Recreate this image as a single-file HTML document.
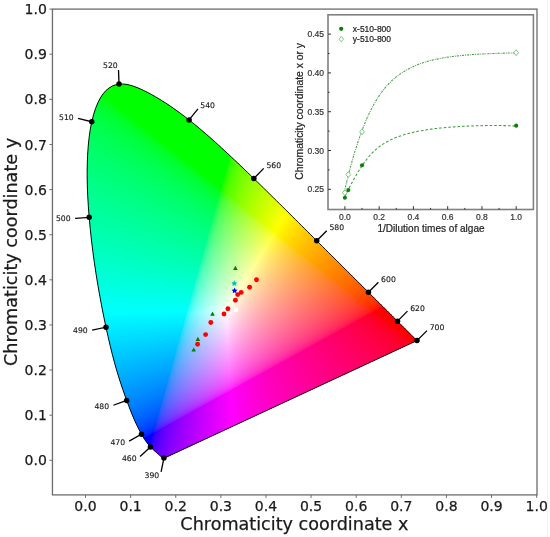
<!DOCTYPE html>
<html><head><meta charset="utf-8">
<style>
html,body{margin:0;padding:0;background:#fff;}
body{width:550px;height:537px;position:relative;overflow:hidden;}
#cv{position:absolute;left:0;top:0;}
svg{position:absolute;left:0;top:0;}
body>*{filter:blur(0.35px);}
.tk{font-family:"DejaVu Sans","Liberation Sans",sans-serif;font-size:14.0px;fill:#1a1a1a;stroke:#1a1a1a;stroke-width:0.25px;}
.al{font-family:"DejaVu Sans","Liberation Sans",sans-serif;font-size:17.6px;fill:#1a1a1a;stroke:#1a1a1a;stroke-width:0.25px;}
.wl{font-family:"DejaVu Sans","Liberation Sans",sans-serif;font-size:7.7px;fill:#1a1a1a;stroke:#1a1a1a;stroke-width:0.15px;}
.it{font-family:"Liberation Sans",Arial,sans-serif;font-size:8.5px;fill:#333;stroke:#333;stroke-width:0.2px;}
.il{font-family:"Liberation Sans",Arial,sans-serif;font-size:10.05px;fill:#222;stroke:#222;stroke-width:0.2px;}
.il2{font-family:"Liberation Sans",Arial,sans-serif;font-size:10.35px;fill:#222;stroke:#222;stroke-width:0.2px;}
.lg{font-family:"Liberation Sans",Arial,sans-serif;font-size:8.5px;fill:#222;stroke:#222;stroke-width:0.2px;}
</style></head><body>
<svg width="550" height="537" viewBox="0 0 550 537"><clipPath id="lc"><path d="M164.71,457.91 L164.68,457.91 L164.64,457.92 L164.60,457.92 L164.57,457.93 L164.53,457.93 L164.50,457.93 L164.47,457.94 L164.44,457.94 L164.41,457.94 L164.38,457.94 L164.36,457.94 L164.33,457.94 L164.31,457.94 L164.28,457.95 L164.24,457.96 L164.19,457.99 L164.15,458.01 L164.11,458.04 L164.08,458.05 L164.06,458.06 L164.05,458.06 L164.04,458.06 L164.03,458.05 L164.03,458.05 L164.01,458.05 L164.00,458.06 L163.98,458.07 L163.96,458.08 L163.94,458.08 L163.92,458.08 L163.90,458.08 L163.88,458.07 L163.85,458.07 L163.83,458.07 L163.81,458.08 L163.79,458.09 L163.77,458.11 L163.75,458.12 L163.73,458.13 L163.71,458.14 L163.69,458.14 L163.66,458.14 L163.64,458.15 L163.60,458.15 L163.57,458.15 L163.53,458.14 L163.49,458.14 L163.45,458.13 L163.41,458.13 L163.37,458.13 L163.33,458.14 L163.28,458.14 L163.24,458.13 L163.19,458.13 L163.15,458.12 L163.10,458.11 L163.05,458.09 L162.99,458.07 L162.92,458.04 L162.84,458.00 L162.75,457.95 L162.65,457.89 L162.55,457.83 L162.45,457.76 L162.34,457.69 L162.23,457.60 L162.11,457.51 L161.98,457.41 L161.84,457.30 L161.70,457.19 L161.54,457.06 L161.37,456.92 L161.19,456.77 L161.00,456.61 L160.80,456.44 L160.60,456.26 L160.39,456.06 L160.17,455.85 L159.93,455.63 L159.68,455.40 L159.42,455.16 L159.14,454.91 L158.84,454.65 L158.53,454.37 L158.19,454.08 L157.83,453.76 L157.45,453.43 L157.05,453.07 L156.62,452.70 L156.18,452.31 L155.71,451.90 L155.22,451.48 L154.71,451.03 L154.18,450.55 L153.62,450.04 L153.04,449.49 L152.43,448.91 L151.79,448.28 L151.14,447.61 L150.45,446.90 L149.75,446.14 L149.03,445.31 L148.27,444.42 L147.48,443.42 L146.64,442.31 L145.74,441.04 L144.77,439.60 L143.74,437.99 L142.65,436.19 L141.50,434.22 L140.31,432.06 L139.06,429.69 L137.75,427.10 L136.38,424.25 L134.95,421.12 L133.44,417.67 L131.87,413.89 L130.23,409.76 L128.50,405.28 L126.69,400.42 L124.79,395.18 L122.81,389.52 L120.75,383.41 L118.63,376.81 L116.50,369.73 L114.37,362.18 L112.26,354.15 L110.17,345.65 L108.07,336.67 L105.98,327.21 L103.89,317.28 L101.83,306.94 L99.83,296.24 L97.91,285.27 L96.09,274.09 L94.39,262.78 L92.84,251.41 L91.45,240.02 L90.23,228.65 L89.19,217.36 L88.34,206.24 L87.70,195.39 L87.30,184.87 L87.14,174.69 L87.24,164.84 L87.60,155.33 L88.21,146.21 L89.10,137.54 L90.28,129.38 L91.76,121.82 L93.52,114.86 L95.54,108.53 L97.81,102.90 L100.31,98.02 L103.03,93.92 L105.95,90.59 L109.04,87.99 L112.27,86.06 L115.60,84.78 L119.03,84.09 L122.52,83.96 L126.08,84.32 L129.69,85.09 L133.34,86.17 L137.01,87.52 L140.70,89.07 L144.40,90.80 L148.08,92.67 L151.72,94.65 L155.31,96.69 L158.84,98.78 L162.31,100.91 L165.75,103.09 L169.15,105.33 L172.53,107.63 L175.88,109.99 L179.21,112.40 L182.52,114.86 L185.82,117.38 L189.10,119.95 L192.38,122.57 L195.65,125.23 L198.92,127.94 L202.17,130.70 L205.42,133.49 L208.66,136.31 L211.89,139.17 L215.13,142.06 L218.36,144.98 L221.58,147.93 L224.81,150.91 L228.04,153.91 L231.27,156.93 L234.49,159.97 L237.72,163.03 L240.94,166.10 L244.17,169.20 L247.40,172.30 L250.62,175.42 L253.84,178.55 L257.07,181.68 L260.29,184.82 L263.50,187.97 L266.71,191.12 L269.92,194.27 L273.13,197.42 L276.32,200.58 L279.51,203.73 L282.69,206.87 L285.86,210.01 L289.02,213.15 L292.17,216.27 L295.30,219.39 L298.42,222.49 L301.52,225.58 L304.61,228.66 L307.67,231.72 L310.72,234.75 L313.74,237.76 L316.73,240.75 L319.71,243.71 L322.65,246.64 L325.57,249.55 L328.45,252.42 L331.31,255.26 L334.13,258.06 L336.91,260.82 L339.65,263.55 L342.35,266.24 L345.01,268.89 L347.63,271.50 L350.20,274.06 L352.71,276.58 L355.16,279.03 L357.54,281.40 L359.85,283.70 L362.08,285.92 L364.24,288.07 L366.35,290.18 L368.42,292.23 L370.44,294.25 L372.42,296.21 L374.34,298.13 L376.20,299.97 L377.98,301.75 L379.70,303.45 L381.34,305.08 L382.92,306.64 L384.43,308.15 L385.89,309.59 L387.30,310.99 L388.64,312.33 L389.93,313.62 L391.17,314.85 L392.35,316.03 L393.48,317.16 L394.56,318.23 L395.59,319.26 L396.57,320.24 L397.51,321.18 L398.40,322.07 L399.26,322.92 L400.08,323.73 L400.86,324.51 L401.61,325.26 L402.33,325.97 L403.01,326.65 L403.67,327.30 L404.30,327.93 L404.91,328.54 L405.51,329.13 L406.08,329.70 L406.63,330.25 L407.16,330.78 L407.67,331.29 L408.16,331.78 L408.63,332.25 L409.08,332.70 L409.51,333.13 L409.93,333.54 L410.32,333.94 L410.70,334.32 L411.07,334.68 L411.41,335.02 L411.73,335.34 L412.03,335.64 L412.32,335.92 L412.58,336.18 L412.83,336.43 L413.07,336.67 L413.29,336.89 L413.51,337.11 L413.72,337.32 L413.91,337.51 L414.10,337.70 L414.27,337.87 L414.43,338.03 L414.59,338.19 L414.73,338.33 L414.86,338.46 L414.98,338.58 L415.09,338.69 L415.19,338.79 L415.28,338.88 L415.37,338.97 L415.45,339.05 L415.54,339.14 L415.62,339.22 L415.70,339.30 L415.78,339.38 L415.85,339.45 L415.91,339.51 L415.98,339.58 L416.04,339.64 L416.10,339.70 L416.17,339.77 L416.23,339.83 L416.29,339.89 L416.36,339.96 L416.42,340.02 L416.48,340.08 L416.54,340.14 L416.60,340.20 L416.65,340.25 L416.70,340.30 L416.75,340.35 L416.78,340.38 L416.81,340.41 L416.83,340.43 L416.86,340.46 L416.88,340.48 L416.90,340.50 L416.92,340.52 L416.93,340.53 L416.95,340.55 L416.96,340.56 L416.97,340.57 L416.98,340.58 L416.99,340.59 L416.99,340.59 Z"/></clipPath><g clip-path="url(#lc)" shape-rendering="crispEdges"><rect x="117" y="78" width="10.5" height="5.5" fill="#0f0"/><rect x="107" y="83" width="35.5" height="5.5" fill="#0f0"/><rect x="102" y="88" width="50.5" height="5.5" fill="#0f0"/><rect x="97" y="93" width="5.5" height="5.5" fill="#0f1"/><rect x="102" y="93" width="60.5" height="5.5" fill="#0f0"/><rect x="97" y="98" width="5.5" height="5.5" fill="#0f2"/><rect x="102" y="98" width="5.5" height="5.5" fill="#0f1"/><rect x="107" y="98" width="60.5" height="5.5" fill="#0f0"/><rect x="92" y="103" width="10.5" height="5.5" fill="#0f3"/><rect x="102" y="103" width="10.5" height="5.5" fill="#0f2"/><rect x="112" y="103" width="65.5" height="5.5" fill="#0f0"/><rect x="92" y="108" width="5.5" height="5.5" fill="#0f4"/><rect x="97" y="108" width="10.5" height="5.5" fill="#0f3"/><rect x="107" y="108" width="10.5" height="5.5" fill="#0f2"/><rect x="117" y="108" width="5.5" height="5.5" fill="#0f1"/><rect x="122" y="108" width="60.5" height="5.5" fill="#0f0"/><rect x="87" y="113" width="15.5" height="5.5" fill="#0f4"/><rect x="102" y="113" width="10.5" height="5.5" fill="#0f3"/><rect x="112" y="113" width="10.5" height="5.5" fill="#0f2"/><rect x="122" y="113" width="5.5" height="5.5" fill="#0f1"/><rect x="127" y="113" width="65.5" height="5.5" fill="#0f0"/><rect x="87" y="118" width="5.5" height="5.5" fill="#0f5"/><rect x="92" y="118" width="15.5" height="5.5" fill="#0f4"/><rect x="107" y="118" width="15.5" height="5.5" fill="#0f3"/><rect x="122" y="118" width="5.5" height="5.5" fill="#0f2"/><rect x="127" y="118" width="5.5" height="5.5" fill="#0f1"/><rect x="132" y="118" width="65.5" height="5.5" fill="#0f0"/><rect x="87" y="123" width="10.5" height="5.5" fill="#0f5"/><rect x="97" y="123" width="20.5" height="5.5" fill="#0f4"/><rect x="117" y="123" width="10.5" height="5.5" fill="#0f3"/><rect x="127" y="123" width="10.5" height="5.5" fill="#0f2"/><rect x="137" y="123" width="65.5" height="5.5" fill="#0f0"/><rect x="87" y="128" width="20.5" height="5.5" fill="#0f5"/><rect x="107" y="128" width="15.5" height="5.5" fill="#0f4"/><rect x="122" y="128" width="10.5" height="5.5" fill="#0f3"/><rect x="132" y="128" width="10.5" height="5.5" fill="#0f2"/><rect x="142" y="128" width="5.5" height="5.5" fill="#0f1"/><rect x="147" y="128" width="60.5" height="5.5" fill="#0f0"/><rect x="87" y="133" width="25.5" height="5.5" fill="#0f5"/><rect x="112" y="133" width="15.5" height="5.5" fill="#0f4"/><rect x="127" y="133" width="15.5" height="5.5" fill="#0f3"/><rect x="142" y="133" width="5.5" height="5.5" fill="#0f2"/><rect x="147" y="133" width="5.5" height="5.5" fill="#0f1"/><rect x="152" y="133" width="60.5" height="5.5" fill="#0f0"/><rect x="87" y="138" width="10.5" height="5.5" fill="#0f6"/><rect x="97" y="138" width="25.5" height="5.5" fill="#0f5"/><rect x="122" y="138" width="15.5" height="5.5" fill="#0f4"/><rect x="137" y="138" width="10.5" height="5.5" fill="#0f3"/><rect x="147" y="138" width="5.5" height="5.5" fill="#0f2"/><rect x="152" y="138" width="5.5" height="5.5" fill="#0f1"/><rect x="157" y="138" width="60.5" height="5.5" fill="#0f0"/><rect x="87" y="143" width="15.5" height="5.5" fill="#0f6"/><rect x="102" y="143" width="25.5" height="5.5" fill="#0f5"/><rect x="127" y="143" width="15.5" height="5.5" fill="#0f4"/><rect x="142" y="143" width="10.5" height="5.5" fill="#0f3"/><rect x="152" y="143" width="10.5" height="5.5" fill="#0f2"/><rect x="162" y="143" width="60.5" height="5.5" fill="#0f0"/><rect x="82" y="148" width="30.5" height="5.5" fill="#0f6"/><rect x="112" y="148" width="20.5" height="5.5" fill="#0f5"/><rect x="132" y="148" width="20.5" height="5.5" fill="#0f4"/><rect x="152" y="148" width="10.5" height="5.5" fill="#0f3"/><rect x="162" y="148" width="5.5" height="5.5" fill="#0f2"/><rect x="167" y="148" width="5.5" height="5.5" fill="#0f1"/><rect x="172" y="148" width="60.5" height="5.5" fill="#0f0"/><rect x="82" y="153" width="10.5" height="5.5" fill="#0f7"/><rect x="92" y="153" width="30.5" height="5.5" fill="#0f6"/><rect x="122" y="153" width="20.5" height="5.5" fill="#0f5"/><rect x="142" y="153" width="15.5" height="5.5" fill="#0f4"/><rect x="157" y="153" width="10.5" height="5.5" fill="#0f3"/><rect x="167" y="153" width="5.5" height="5.5" fill="#0f2"/><rect x="172" y="153" width="5.5" height="5.5" fill="#0f1"/><rect x="177" y="153" width="55.5" height="5.5" fill="#0f0"/><rect x="232" y="153" width="5.5" height="5.5" fill="#3f0"/><rect x="82" y="158" width="20.5" height="5.5" fill="#0f7"/><rect x="102" y="158" width="25.5" height="5.5" fill="#0f6"/><rect x="127" y="158" width="20.5" height="5.5" fill="#0f5"/><rect x="147" y="158" width="15.5" height="5.5" fill="#0f4"/><rect x="162" y="158" width="10.5" height="5.5" fill="#0f3"/><rect x="172" y="158" width="10.5" height="5.5" fill="#0f2"/><rect x="182" y="158" width="45.5" height="5.5" fill="#0f0"/><rect x="227" y="158" width="5.5" height="5.5" fill="#1f0"/><rect x="232" y="158" width="5.5" height="5.5" fill="#4f0"/><rect x="237" y="158" width="5.5" height="5.5" fill="#5f0"/><rect x="82" y="163" width="25.5" height="5.5" fill="#0f7"/><rect x="107" y="163" width="30.5" height="5.5" fill="#0f6"/><rect x="137" y="163" width="20.5" height="5.5" fill="#0f5"/><rect x="157" y="163" width="15.5" height="5.5" fill="#0f4"/><rect x="172" y="163" width="10.5" height="5.5" fill="#0f3"/><rect x="182" y="163" width="5.5" height="5.5" fill="#0f2"/><rect x="187" y="163" width="5.5" height="5.5" fill="#0f1"/><rect x="192" y="163" width="35.5" height="5.5" fill="#0f0"/><rect x="227" y="163" width="5.5" height="5.5" fill="#2f0"/><rect x="232" y="163" width="5.5" height="5.5" fill="#4f0"/><rect x="237" y="163" width="5.5" height="5.5" fill="#6f0"/><rect x="242" y="163" width="5.5" height="5.5" fill="#7f0"/><rect x="82" y="168" width="35.5" height="5.5" fill="#0f7"/><rect x="117" y="168" width="30.5" height="5.5" fill="#0f6"/><rect x="147" y="168" width="15.5" height="5.5" fill="#0f5"/><rect x="162" y="168" width="15.5" height="5.5" fill="#0f4"/><rect x="177" y="168" width="10.5" height="5.5" fill="#0f3"/><rect x="187" y="168" width="5.5" height="5.5" fill="#0f2"/><rect x="192" y="168" width="5.5" height="5.5" fill="#0f1"/><rect x="197" y="168" width="30.5" height="5.5" fill="#0f0"/><rect x="227" y="168" width="5.5" height="5.5" fill="#3f0"/><rect x="232" y="168" width="5.5" height="5.5" fill="#5f0"/><rect x="237" y="168" width="5.5" height="5.5" fill="#6f0"/><rect x="242" y="168" width="5.5" height="5.5" fill="#7f0"/><rect x="247" y="168" width="5.5" height="5.5" fill="#8f0"/><rect x="82" y="173" width="10.5" height="5.5" fill="#0f8"/><rect x="92" y="173" width="35.5" height="5.5" fill="#0f7"/><rect x="127" y="173" width="25.5" height="5.5" fill="#0f6"/><rect x="152" y="173" width="20.5" height="5.5" fill="#0f5"/><rect x="172" y="173" width="15.5" height="5.5" fill="#0f4"/><rect x="187" y="173" width="5.5" height="5.5" fill="#0f3"/><rect x="192" y="173" width="5.5" height="5.5" fill="#0f2"/><rect x="197" y="173" width="5.5" height="5.5" fill="#0f1"/><rect x="202" y="173" width="25.5" height="5.5" fill="#0f0"/><rect x="227" y="173" width="5.5" height="5.5" fill="#4f0"/><rect x="232" y="173" width="5.5" height="5.5" fill="#5f0"/><rect x="237" y="173" width="5.5" height="5.5" fill="#6f0"/><rect x="242" y="173" width="5.5" height="5.5" fill="#7f0"/><rect x="247" y="173" width="5.5" height="5.5" fill="#8f0"/><rect x="252" y="173" width="5.5" height="5.5" fill="#9f0"/><rect x="82" y="178" width="20.5" height="5.5" fill="#0f8"/><rect x="102" y="178" width="35.5" height="5.5" fill="#0f7"/><rect x="137" y="178" width="25.5" height="5.5" fill="#0f6"/><rect x="162" y="178" width="15.5" height="5.5" fill="#0f5"/><rect x="177" y="178" width="15.5" height="5.5" fill="#0f4"/><rect x="192" y="178" width="10.5" height="5.5" fill="#0f3"/><rect x="202" y="178" width="5.5" height="5.5" fill="#0f2"/><rect x="207" y="178" width="15.5" height="5.5" fill="#0f0"/><rect x="222" y="178" width="5.5" height="5.5" fill="#2f0"/><rect x="227" y="178" width="5.5" height="5.5" fill="#4f0"/><rect x="232" y="178" width="5.5" height="5.5" fill="#6f0"/><rect x="237" y="178" width="5.5" height="5.5" fill="#7f0"/><rect x="242" y="178" width="10.5" height="5.5" fill="#8f0"/><rect x="252" y="178" width="5.5" height="5.5" fill="#9f0"/><rect x="257" y="178" width="5.5" height="5.5" fill="#af0"/><rect x="82" y="183" width="30.5" height="5.5" fill="#0f8"/><rect x="112" y="183" width="35.5" height="5.5" fill="#0f7"/><rect x="147" y="183" width="20.5" height="5.5" fill="#0f6"/><rect x="167" y="183" width="20.5" height="5.5" fill="#0f5"/><rect x="187" y="183" width="10.5" height="5.5" fill="#0f4"/><rect x="197" y="183" width="10.5" height="5.5" fill="#0f3"/><rect x="207" y="183" width="5.5" height="5.5" fill="#0f2"/><rect x="212" y="183" width="5.5" height="5.5" fill="#0f1"/><rect x="217" y="183" width="5.5" height="5.5" fill="#0f0"/><rect x="222" y="183" width="5.5" height="5.5" fill="#3f0"/><rect x="227" y="183" width="5.5" height="5.5" fill="#5f0"/><rect x="232" y="183" width="5.5" height="5.5" fill="#6f0"/><rect x="237" y="183" width="5.5" height="5.5" fill="#7f0"/><rect x="242" y="183" width="5.5" height="5.5" fill="#8f0"/><rect x="247" y="183" width="10.5" height="5.5" fill="#9f0"/><rect x="257" y="183" width="5.5" height="5.5" fill="#af0"/><rect x="262" y="183" width="5.5" height="5.5" fill="#bf0"/><rect x="82" y="188" width="40.5" height="5.5" fill="#0f8"/><rect x="122" y="188" width="30.5" height="5.5" fill="#0f7"/><rect x="152" y="188" width="25.5" height="5.5" fill="#0f6"/><rect x="177" y="188" width="15.5" height="5.5" fill="#0f5"/><rect x="192" y="188" width="15.5" height="5.5" fill="#0f4"/><rect x="207" y="188" width="5.5" height="5.5" fill="#0f3"/><rect x="212" y="188" width="5.5" height="5.5" fill="#0f2"/><rect x="217" y="188" width="5.5" height="5.5" fill="#0f1"/><rect x="222" y="188" width="5.5" height="5.5" fill="#3f0"/><rect x="227" y="188" width="5.5" height="5.5" fill="#5f0"/><rect x="232" y="188" width="5.5" height="5.5" fill="#6f0"/><rect x="237" y="188" width="5.5" height="5.5" fill="#7f0"/><rect x="242" y="188" width="5.5" height="5.5" fill="#8f0"/><rect x="247" y="188" width="5.5" height="5.5" fill="#9f0"/><rect x="252" y="188" width="10.5" height="5.5" fill="#af0"/><rect x="262" y="188" width="5.5" height="5.5" fill="#bf0"/><rect x="267" y="188" width="5.5" height="5.5" fill="#cf0"/><rect x="82" y="193" width="10.5" height="5.5" fill="#0f9"/><rect x="92" y="193" width="40.5" height="5.5" fill="#0f8"/><rect x="132" y="193" width="30.5" height="5.5" fill="#0f7"/><rect x="162" y="193" width="25.5" height="5.5" fill="#0f6"/><rect x="187" y="193" width="15.5" height="5.5" fill="#0f5"/><rect x="202" y="193" width="10.5" height="5.5" fill="#0f4"/><rect x="212" y="193" width="5.5" height="5.5" fill="#0f3"/><rect x="217" y="193" width="5.5" height="5.5" fill="#1f3"/><rect x="222" y="193" width="5.5" height="5.5" fill="#4f2"/><rect x="227" y="193" width="5.5" height="5.5" fill="#5f0"/><rect x="232" y="193" width="5.5" height="5.5" fill="#7f0"/><rect x="237" y="193" width="10.5" height="5.5" fill="#8f0"/><rect x="247" y="193" width="5.5" height="5.5" fill="#9f0"/><rect x="252" y="193" width="5.5" height="5.5" fill="#af0"/><rect x="257" y="193" width="10.5" height="5.5" fill="#bf0"/><rect x="267" y="193" width="10.5" height="5.5" fill="#cf0"/><rect x="82" y="198" width="20.5" height="5.5" fill="#0f9"/><rect x="102" y="198" width="40.5" height="5.5" fill="#0f8"/><rect x="142" y="198" width="30.5" height="5.5" fill="#0f7"/><rect x="172" y="198" width="20.5" height="5.5" fill="#0f6"/><rect x="192" y="198" width="15.5" height="5.5" fill="#0f5"/><rect x="207" y="198" width="10.5" height="5.5" fill="#0f4"/><rect x="217" y="198" width="5.5" height="5.5" fill="#2f3"/><rect x="222" y="198" width="5.5" height="5.5" fill="#4f3"/><rect x="227" y="198" width="5.5" height="5.5" fill="#6f2"/><rect x="232" y="198" width="5.5" height="5.5" fill="#7f0"/><rect x="237" y="198" width="5.5" height="5.5" fill="#8f0"/><rect x="242" y="198" width="5.5" height="5.5" fill="#9f0"/><rect x="247" y="198" width="10.5" height="5.5" fill="#af0"/><rect x="257" y="198" width="5.5" height="5.5" fill="#bf0"/><rect x="262" y="198" width="10.5" height="5.5" fill="#cf0"/><rect x="272" y="198" width="10.5" height="5.5" fill="#df0"/><rect x="87" y="203" width="30.5" height="5.5" fill="#0f9"/><rect x="117" y="203" width="35.5" height="5.5" fill="#0f8"/><rect x="152" y="203" width="30.5" height="5.5" fill="#0f7"/><rect x="182" y="203" width="20.5" height="5.5" fill="#0f6"/><rect x="202" y="203" width="15.5" height="5.5" fill="#0f5"/><rect x="217" y="203" width="5.5" height="5.5" fill="#3f4"/><rect x="222" y="203" width="5.5" height="5.5" fill="#5f4"/><rect x="227" y="203" width="5.5" height="5.5" fill="#6f3"/><rect x="232" y="203" width="5.5" height="5.5" fill="#7f2"/><rect x="237" y="203" width="5.5" height="5.5" fill="#8f1"/><rect x="242" y="203" width="5.5" height="5.5" fill="#9f0"/><rect x="247" y="203" width="5.5" height="5.5" fill="#af0"/><rect x="252" y="203" width="10.5" height="5.5" fill="#bf0"/><rect x="262" y="203" width="5.5" height="5.5" fill="#cf0"/><rect x="267" y="203" width="10.5" height="5.5" fill="#df0"/><rect x="277" y="203" width="10.5" height="5.5" fill="#ef0"/><rect x="87" y="208" width="40.5" height="5.5" fill="#0f9"/><rect x="127" y="208" width="35.5" height="5.5" fill="#0f8"/><rect x="162" y="208" width="30.5" height="5.5" fill="#0f7"/><rect x="192" y="208" width="15.5" height="5.5" fill="#0f6"/><rect x="207" y="208" width="10.5" height="5.5" fill="#0f5"/><rect x="217" y="208" width="5.5" height="5.5" fill="#4f5"/><rect x="222" y="208" width="5.5" height="5.5" fill="#5f4"/><rect x="227" y="208" width="5.5" height="5.5" fill="#7f4"/><rect x="232" y="208" width="5.5" height="5.5" fill="#8f3"/><rect x="237" y="208" width="5.5" height="5.5" fill="#9f3"/><rect x="242" y="208" width="5.5" height="5.5" fill="#9f1"/><rect x="247" y="208" width="5.5" height="5.5" fill="#af0"/><rect x="252" y="208" width="5.5" height="5.5" fill="#bf0"/><rect x="257" y="208" width="10.5" height="5.5" fill="#cf0"/><rect x="267" y="208" width="10.5" height="5.5" fill="#df0"/><rect x="277" y="208" width="5.5" height="5.5" fill="#ef0"/><rect x="282" y="208" width="10.5" height="5.5" fill="#ff0"/><rect x="87" y="213" width="5.5" height="5.5" fill="#0fa"/><rect x="92" y="213" width="50.5" height="5.5" fill="#0f9"/><rect x="142" y="213" width="30.5" height="5.5" fill="#0f8"/><rect x="172" y="213" width="25.5" height="5.5" fill="#0f7"/><rect x="197" y="213" width="15.5" height="5.5" fill="#0f6"/><rect x="212" y="213" width="5.5" height="5.5" fill="#2f6"/><rect x="217" y="213" width="5.5" height="5.5" fill="#4f5"/><rect x="222" y="213" width="5.5" height="5.5" fill="#6f5"/><rect x="227" y="213" width="5.5" height="5.5" fill="#7f5"/><rect x="232" y="213" width="5.5" height="5.5" fill="#8f4"/><rect x="237" y="213" width="5.5" height="5.5" fill="#9f4"/><rect x="242" y="213" width="5.5" height="5.5" fill="#af3"/><rect x="247" y="213" width="5.5" height="5.5" fill="#af2"/><rect x="252" y="213" width="5.5" height="5.5" fill="#bf0"/><rect x="257" y="213" width="5.5" height="5.5" fill="#cf0"/><rect x="262" y="213" width="10.5" height="5.5" fill="#df0"/><rect x="272" y="213" width="10.5" height="5.5" fill="#ef0"/><rect x="282" y="213" width="5.5" height="5.5" fill="#ff0"/><rect x="287" y="213" width="10.5" height="5.5" fill="#fe0"/><rect x="87" y="218" width="20.5" height="5.5" fill="#0fa"/><rect x="107" y="218" width="45.5" height="5.5" fill="#0f9"/><rect x="152" y="218" width="35.5" height="5.5" fill="#0f8"/><rect x="187" y="218" width="20.5" height="5.5" fill="#0f7"/><rect x="207" y="218" width="5.5" height="5.5" fill="#0f6"/><rect x="212" y="218" width="5.5" height="5.5" fill="#3f6"/><rect x="217" y="218" width="5.5" height="5.5" fill="#5f6"/><rect x="222" y="218" width="5.5" height="5.5" fill="#6f6"/><rect x="227" y="218" width="5.5" height="5.5" fill="#7f5"/><rect x="232" y="218" width="5.5" height="5.5" fill="#8f5"/><rect x="237" y="218" width="5.5" height="5.5" fill="#9f4"/><rect x="242" y="218" width="5.5" height="5.5" fill="#af4"/><rect x="247" y="218" width="5.5" height="5.5" fill="#bf3"/><rect x="252" y="218" width="5.5" height="5.5" fill="#cf2"/><rect x="257" y="218" width="5.5" height="5.5" fill="#cf0"/><rect x="262" y="218" width="10.5" height="5.5" fill="#df0"/><rect x="272" y="218" width="5.5" height="5.5" fill="#ef0"/><rect x="277" y="218" width="10.5" height="5.5" fill="#ff0"/><rect x="287" y="218" width="10.5" height="5.5" fill="#fe0"/><rect x="297" y="218" width="5.5" height="5.5" fill="#fd0"/><rect x="87" y="223" width="35.5" height="5.5" fill="#0fa"/><rect x="122" y="223" width="40.5" height="5.5" fill="#0f9"/><rect x="162" y="223" width="35.5" height="5.5" fill="#0f8"/><rect x="197" y="223" width="15.5" height="5.5" fill="#0f7"/><rect x="212" y="223" width="5.5" height="5.5" fill="#3f7"/><rect x="217" y="223" width="5.5" height="5.5" fill="#5f6"/><rect x="222" y="223" width="5.5" height="5.5" fill="#7f6"/><rect x="227" y="223" width="5.5" height="5.5" fill="#8f6"/><rect x="232" y="223" width="5.5" height="5.5" fill="#9f5"/><rect x="237" y="223" width="10.5" height="5.5" fill="#af5"/><rect x="247" y="223" width="5.5" height="5.5" fill="#bf4"/><rect x="252" y="223" width="5.5" height="5.5" fill="#cf3"/><rect x="257" y="223" width="5.5" height="5.5" fill="#df3"/><rect x="262" y="223" width="5.5" height="5.5" fill="#df1"/><rect x="267" y="223" width="10.5" height="5.5" fill="#ef0"/><rect x="277" y="223" width="5.5" height="5.5" fill="#ff0"/><rect x="282" y="223" width="10.5" height="5.5" fill="#fe0"/><rect x="292" y="223" width="10.5" height="5.5" fill="#fd0"/><rect x="302" y="223" width="5.5" height="5.5" fill="#fc0"/><rect x="87" y="228" width="45.5" height="5.5" fill="#0fa"/><rect x="132" y="228" width="45.5" height="5.5" fill="#0f9"/><rect x="177" y="228" width="30.5" height="5.5" fill="#0f8"/><rect x="207" y="228" width="5.5" height="5.5" fill="#0f7"/><rect x="212" y="228" width="5.5" height="5.5" fill="#4f7"/><rect x="217" y="228" width="5.5" height="5.5" fill="#6f7"/><rect x="222" y="228" width="5.5" height="5.5" fill="#7f7"/><rect x="227" y="228" width="5.5" height="5.5" fill="#8f6"/><rect x="232" y="228" width="5.5" height="5.5" fill="#9f6"/><rect x="237" y="228" width="5.5" height="5.5" fill="#af6"/><rect x="242" y="228" width="10.5" height="5.5" fill="#bf5"/><rect x="252" y="228" width="5.5" height="5.5" fill="#cf4"/><rect x="257" y="228" width="5.5" height="5.5" fill="#df4"/><rect x="262" y="228" width="5.5" height="5.5" fill="#ef3"/><rect x="267" y="228" width="5.5" height="5.5" fill="#ef2"/><rect x="272" y="228" width="10.5" height="5.5" fill="#ff0"/><rect x="282" y="228" width="5.5" height="5.5" fill="#fe0"/><rect x="287" y="228" width="15.5" height="5.5" fill="#fd0"/><rect x="302" y="228" width="10.5" height="5.5" fill="#fc0"/><rect x="87" y="233" width="5.5" height="5.5" fill="#0fb"/><rect x="92" y="233" width="55.5" height="5.5" fill="#0fa"/><rect x="147" y="233" width="40.5" height="5.5" fill="#0f9"/><rect x="187" y="233" width="20.5" height="5.5" fill="#0f8"/><rect x="207" y="233" width="5.5" height="5.5" fill="#2f8"/><rect x="212" y="233" width="5.5" height="5.5" fill="#5f8"/><rect x="217" y="233" width="5.5" height="5.5" fill="#6f7"/><rect x="222" y="233" width="5.5" height="5.5" fill="#7f7"/><rect x="227" y="233" width="10.5" height="5.5" fill="#9f7"/><rect x="237" y="233" width="5.5" height="5.5" fill="#af6"/><rect x="242" y="233" width="5.5" height="5.5" fill="#bf6"/><rect x="247" y="233" width="5.5" height="5.5" fill="#cf6"/><rect x="252" y="233" width="10.5" height="5.5" fill="#df5"/><rect x="262" y="233" width="5.5" height="5.5" fill="#ef4"/><rect x="267" y="233" width="5.5" height="5.5" fill="#ff3"/><rect x="272" y="233" width="5.5" height="5.5" fill="#ff2"/><rect x="277" y="233" width="10.5" height="5.5" fill="#fe0"/><rect x="287" y="233" width="10.5" height="5.5" fill="#fd0"/><rect x="297" y="233" width="10.5" height="5.5" fill="#fc0"/><rect x="307" y="233" width="10.5" height="5.5" fill="#fb0"/><rect x="87" y="238" width="20.5" height="5.5" fill="#0fb"/><rect x="107" y="238" width="55.5" height="5.5" fill="#0fa"/><rect x="162" y="238" width="40.5" height="5.5" fill="#0f9"/><rect x="202" y="238" width="5.5" height="5.5" fill="#0f8"/><rect x="207" y="238" width="5.5" height="5.5" fill="#3f8"/><rect x="212" y="238" width="5.5" height="5.5" fill="#5f8"/><rect x="217" y="238" width="5.5" height="5.5" fill="#7f8"/><rect x="222" y="238" width="5.5" height="5.5" fill="#8f8"/><rect x="227" y="238" width="5.5" height="5.5" fill="#9f7"/><rect x="232" y="238" width="5.5" height="5.5" fill="#af7"/><rect x="237" y="238" width="5.5" height="5.5" fill="#bf7"/><rect x="242" y="238" width="5.5" height="5.5" fill="#bf6"/><rect x="247" y="238" width="5.5" height="5.5" fill="#cf6"/><rect x="252" y="238" width="5.5" height="5.5" fill="#df6"/><rect x="257" y="238" width="10.5" height="5.5" fill="#ef5"/><rect x="267" y="238" width="5.5" height="5.5" fill="#ff4"/><rect x="272" y="238" width="5.5" height="5.5" fill="#fe3"/><rect x="277" y="238" width="5.5" height="5.5" fill="#fe2"/><rect x="282" y="238" width="10.5" height="5.5" fill="#fd0"/><rect x="292" y="238" width="15.5" height="5.5" fill="#fc0"/><rect x="307" y="238" width="10.5" height="5.5" fill="#fb0"/><rect x="317" y="238" width="5.5" height="5.5" fill="#fa0"/><rect x="87" y="243" width="40.5" height="5.5" fill="#0fb"/><rect x="127" y="243" width="50.5" height="5.5" fill="#0fa"/><rect x="177" y="243" width="30.5" height="5.5" fill="#0f9"/><rect x="207" y="243" width="5.5" height="5.5" fill="#4f9"/><rect x="212" y="243" width="5.5" height="5.5" fill="#6f8"/><rect x="217" y="243" width="5.5" height="5.5" fill="#7f8"/><rect x="222" y="243" width="5.5" height="5.5" fill="#8f8"/><rect x="227" y="243" width="5.5" height="5.5" fill="#9f8"/><rect x="232" y="243" width="5.5" height="5.5" fill="#af8"/><rect x="237" y="243" width="5.5" height="5.5" fill="#bf7"/><rect x="242" y="243" width="5.5" height="5.5" fill="#cf7"/><rect x="247" y="243" width="5.5" height="5.5" fill="#df7"/><rect x="252" y="243" width="5.5" height="5.5" fill="#df6"/><rect x="257" y="243" width="5.5" height="5.5" fill="#ef6"/><rect x="262" y="243" width="5.5" height="5.5" fill="#ff6"/><rect x="267" y="243" width="5.5" height="5.5" fill="#ff5"/><rect x="272" y="243" width="5.5" height="5.5" fill="#fe4"/><rect x="277" y="243" width="10.5" height="5.5" fill="#fd3"/><rect x="287" y="243" width="5.5" height="5.5" fill="#fc1"/><rect x="292" y="243" width="10.5" height="5.5" fill="#fc0"/><rect x="302" y="243" width="15.5" height="5.5" fill="#fb0"/><rect x="317" y="243" width="10.5" height="5.5" fill="#fa0"/><rect x="87" y="248" width="60.5" height="5.5" fill="#0fb"/><rect x="147" y="248" width="45.5" height="5.5" fill="#0fa"/><rect x="192" y="248" width="10.5" height="5.5" fill="#0f9"/><rect x="202" y="248" width="5.5" height="5.5" fill="#1f9"/><rect x="207" y="248" width="5.5" height="5.5" fill="#5f9"/><rect x="212" y="248" width="5.5" height="5.5" fill="#6f9"/><rect x="217" y="248" width="5.5" height="5.5" fill="#8f9"/><rect x="222" y="248" width="5.5" height="5.5" fill="#9f8"/><rect x="227" y="248" width="5.5" height="5.5" fill="#af8"/><rect x="232" y="248" width="10.5" height="5.5" fill="#bf8"/><rect x="242" y="248" width="5.5" height="5.5" fill="#cf8"/><rect x="247" y="248" width="5.5" height="5.5" fill="#df7"/><rect x="252" y="248" width="10.5" height="5.5" fill="#ef7"/><rect x="262" y="248" width="5.5" height="5.5" fill="#ff6"/><rect x="267" y="248" width="5.5" height="5.5" fill="#fe6"/><rect x="272" y="248" width="5.5" height="5.5" fill="#fe5"/><rect x="277" y="248" width="10.5" height="5.5" fill="#fd4"/><rect x="287" y="248" width="5.5" height="5.5" fill="#fc3"/><rect x="292" y="248" width="5.5" height="5.5" fill="#fc2"/><rect x="297" y="248" width="15.5" height="5.5" fill="#fb0"/><rect x="312" y="248" width="15.5" height="5.5" fill="#fa0"/><rect x="327" y="248" width="5.5" height="5.5" fill="#f90"/><rect x="92" y="253" width="5.5" height="5.5" fill="#0fc"/><rect x="97" y="253" width="65.5" height="5.5" fill="#0fb"/><rect x="162" y="253" width="40.5" height="5.5" fill="#0fa"/><rect x="202" y="253" width="5.5" height="5.5" fill="#3fa"/><rect x="207" y="253" width="5.5" height="5.5" fill="#5f9"/><rect x="212" y="253" width="5.5" height="5.5" fill="#7f9"/><rect x="217" y="253" width="5.5" height="5.5" fill="#8f9"/><rect x="222" y="253" width="5.5" height="5.5" fill="#9f9"/><rect x="227" y="253" width="5.5" height="5.5" fill="#af9"/><rect x="232" y="253" width="5.5" height="5.5" fill="#bf9"/><rect x="237" y="253" width="5.5" height="5.5" fill="#cf8"/><rect x="242" y="253" width="10.5" height="5.5" fill="#df8"/><rect x="252" y="253" width="5.5" height="5.5" fill="#ef8"/><rect x="257" y="253" width="5.5" height="5.5" fill="#ff7"/><rect x="262" y="253" width="5.5" height="5.5" fill="#fe7"/><rect x="267" y="253" width="5.5" height="5.5" fill="#fe6"/><rect x="272" y="253" width="5.5" height="5.5" fill="#fd6"/><rect x="277" y="253" width="5.5" height="5.5" fill="#fd5"/><rect x="282" y="253" width="10.5" height="5.5" fill="#fc4"/><rect x="292" y="253" width="5.5" height="5.5" fill="#fb3"/><rect x="297" y="253" width="5.5" height="5.5" fill="#fb2"/><rect x="302" y="253" width="5.5" height="5.5" fill="#fb0"/><rect x="307" y="253" width="15.5" height="5.5" fill="#fa0"/><rect x="322" y="253" width="15.5" height="5.5" fill="#f90"/><rect x="92" y="258" width="25.5" height="5.5" fill="#0fc"/><rect x="117" y="258" width="65.5" height="5.5" fill="#0fb"/><rect x="182" y="258" width="20.5" height="5.5" fill="#0fa"/><rect x="202" y="258" width="5.5" height="5.5" fill="#4fa"/><rect x="207" y="258" width="5.5" height="5.5" fill="#6fa"/><rect x="212" y="258" width="5.5" height="5.5" fill="#7fa"/><rect x="217" y="258" width="5.5" height="5.5" fill="#8fa"/><rect x="222" y="258" width="5.5" height="5.5" fill="#9f9"/><rect x="227" y="258" width="5.5" height="5.5" fill="#af9"/><rect x="232" y="258" width="5.5" height="5.5" fill="#bf9"/><rect x="237" y="258" width="5.5" height="5.5" fill="#cf9"/><rect x="242" y="258" width="5.5" height="5.5" fill="#df9"/><rect x="247" y="258" width="5.5" height="5.5" fill="#ef8"/><rect x="252" y="258" width="10.5" height="5.5" fill="#ff8"/><rect x="262" y="258" width="5.5" height="5.5" fill="#fe7"/><rect x="267" y="258" width="5.5" height="5.5" fill="#fd7"/><rect x="272" y="258" width="5.5" height="5.5" fill="#fd6"/><rect x="277" y="258" width="10.5" height="5.5" fill="#fc5"/><rect x="287" y="258" width="10.5" height="5.5" fill="#fb4"/><rect x="297" y="258" width="5.5" height="5.5" fill="#fb3"/><rect x="302" y="258" width="5.5" height="5.5" fill="#fa2"/><rect x="307" y="258" width="10.5" height="5.5" fill="#fa0"/><rect x="317" y="258" width="15.5" height="5.5" fill="#f90"/><rect x="332" y="258" width="10.5" height="5.5" fill="#f80"/><rect x="92" y="263" width="50.5" height="5.5" fill="#0fc"/><rect x="142" y="263" width="60.5" height="5.5" fill="#0fb"/><rect x="202" y="263" width="5.5" height="5.5" fill="#4fa"/><rect x="207" y="263" width="5.5" height="5.5" fill="#6fa"/><rect x="212" y="263" width="5.5" height="5.5" fill="#8fa"/><rect x="217" y="263" width="5.5" height="5.5" fill="#9fa"/><rect x="222" y="263" width="5.5" height="5.5" fill="#afa"/><rect x="227" y="263" width="5.5" height="5.5" fill="#bfa"/><rect x="232" y="263" width="5.5" height="5.5" fill="#cfa"/><rect x="237" y="263" width="10.5" height="5.5" fill="#df9"/><rect x="247" y="263" width="5.5" height="5.5" fill="#ef9"/><rect x="252" y="263" width="5.5" height="5.5" fill="#ff9"/><rect x="257" y="263" width="10.5" height="5.5" fill="#fe8"/><rect x="267" y="263" width="5.5" height="5.5" fill="#fd7"/><rect x="272" y="263" width="5.5" height="5.5" fill="#fd6"/><rect x="277" y="263" width="5.5" height="5.5" fill="#fc6"/><rect x="282" y="263" width="5.5" height="5.5" fill="#fc5"/><rect x="287" y="263" width="5.5" height="5.5" fill="#fb5"/><rect x="292" y="263" width="5.5" height="5.5" fill="#fb4"/><rect x="297" y="263" width="5.5" height="5.5" fill="#fa4"/><rect x="302" y="263" width="5.5" height="5.5" fill="#fa3"/><rect x="307" y="263" width="5.5" height="5.5" fill="#fa2"/><rect x="312" y="263" width="5.5" height="5.5" fill="#f91"/><rect x="317" y="263" width="10.5" height="5.5" fill="#f90"/><rect x="327" y="263" width="20.5" height="5.5" fill="#f80"/><rect x="92" y="268" width="75.5" height="5.5" fill="#0fc"/><rect x="167" y="268" width="30.5" height="5.5" fill="#0fb"/><rect x="197" y="268" width="5.5" height="5.5" fill="#2fb"/><rect x="202" y="268" width="5.5" height="5.5" fill="#5fb"/><rect x="207" y="268" width="5.5" height="5.5" fill="#7fb"/><rect x="212" y="268" width="5.5" height="5.5" fill="#8fb"/><rect x="217" y="268" width="5.5" height="5.5" fill="#9fb"/><rect x="222" y="268" width="5.5" height="5.5" fill="#afa"/><rect x="227" y="268" width="5.5" height="5.5" fill="#bfa"/><rect x="232" y="268" width="5.5" height="5.5" fill="#cfa"/><rect x="237" y="268" width="5.5" height="5.5" fill="#dfa"/><rect x="242" y="268" width="5.5" height="5.5" fill="#efa"/><rect x="247" y="268" width="5.5" height="5.5" fill="#ffa"/><rect x="252" y="268" width="5.5" height="5.5" fill="#ff9"/><rect x="257" y="268" width="5.5" height="5.5" fill="#fe8"/><rect x="262" y="268" width="5.5" height="5.5" fill="#fd8"/><rect x="267" y="268" width="5.5" height="5.5" fill="#fd7"/><rect x="272" y="268" width="5.5" height="5.5" fill="#fc7"/><rect x="277" y="268" width="5.5" height="5.5" fill="#fc6"/><rect x="282" y="268" width="5.5" height="5.5" fill="#fb6"/><rect x="287" y="268" width="5.5" height="5.5" fill="#fb5"/><rect x="292" y="268" width="5.5" height="5.5" fill="#fa5"/><rect x="297" y="268" width="10.5" height="5.5" fill="#fa4"/><rect x="307" y="268" width="5.5" height="5.5" fill="#f93"/><rect x="312" y="268" width="5.5" height="5.5" fill="#f92"/><rect x="317" y="268" width="5.5" height="5.5" fill="#f91"/><rect x="322" y="268" width="20.5" height="5.5" fill="#f80"/><rect x="342" y="268" width="10.5" height="5.5" fill="#f70"/><rect x="92" y="273" width="20.5" height="5.5" fill="#0fd"/><rect x="112" y="273" width="80.5" height="5.5" fill="#0fc"/><rect x="192" y="273" width="5.5" height="5.5" fill="#0fb"/><rect x="197" y="273" width="5.5" height="5.5" fill="#3fb"/><rect x="202" y="273" width="5.5" height="5.5" fill="#6fb"/><rect x="207" y="273" width="5.5" height="5.5" fill="#7fb"/><rect x="212" y="273" width="5.5" height="5.5" fill="#9fb"/><rect x="217" y="273" width="5.5" height="5.5" fill="#afb"/><rect x="222" y="273" width="5.5" height="5.5" fill="#bfb"/><rect x="227" y="273" width="5.5" height="5.5" fill="#cfb"/><rect x="232" y="273" width="5.5" height="5.5" fill="#dfb"/><rect x="237" y="273" width="5.5" height="5.5" fill="#dfa"/><rect x="242" y="273" width="5.5" height="5.5" fill="#efa"/><rect x="247" y="273" width="5.5" height="5.5" fill="#ffa"/><rect x="252" y="273" width="5.5" height="5.5" fill="#fe9"/><rect x="257" y="273" width="5.5" height="5.5" fill="#fd9"/><rect x="262" y="273" width="5.5" height="5.5" fill="#fd8"/><rect x="267" y="273" width="5.5" height="5.5" fill="#fc8"/><rect x="272" y="273" width="5.5" height="5.5" fill="#fc7"/><rect x="277" y="273" width="5.5" height="5.5" fill="#fb7"/><rect x="282" y="273" width="5.5" height="5.5" fill="#fb6"/><rect x="287" y="273" width="5.5" height="5.5" fill="#fa6"/><rect x="292" y="273" width="10.5" height="5.5" fill="#fa5"/><rect x="302" y="273" width="10.5" height="5.5" fill="#f94"/><rect x="312" y="273" width="5.5" height="5.5" fill="#f93"/><rect x="317" y="273" width="5.5" height="5.5" fill="#f83"/><rect x="322" y="273" width="5.5" height="5.5" fill="#f82"/><rect x="327" y="273" width="10.5" height="5.5" fill="#f80"/><rect x="337" y="273" width="15.5" height="5.5" fill="#f70"/><rect x="352" y="273" width="5.5" height="5.5" fill="#f60"/><rect x="92" y="278" width="55.5" height="5.5" fill="#0fd"/><rect x="147" y="278" width="50.5" height="5.5" fill="#0fc"/><rect x="197" y="278" width="5.5" height="5.5" fill="#4fc"/><rect x="202" y="278" width="5.5" height="5.5" fill="#6fc"/><rect x="207" y="278" width="5.5" height="5.5" fill="#8fc"/><rect x="212" y="278" width="5.5" height="5.5" fill="#9fc"/><rect x="217" y="278" width="5.5" height="5.5" fill="#afb"/><rect x="222" y="278" width="5.5" height="5.5" fill="#bfb"/><rect x="227" y="278" width="5.5" height="5.5" fill="#cfb"/><rect x="232" y="278" width="5.5" height="5.5" fill="#dfb"/><rect x="237" y="278" width="5.5" height="5.5" fill="#efb"/><rect x="242" y="278" width="5.5" height="5.5" fill="#ffb"/><rect x="247" y="278" width="10.5" height="5.5" fill="#fea"/><rect x="257" y="278" width="5.5" height="5.5" fill="#fd9"/><rect x="262" y="278" width="10.5" height="5.5" fill="#fc8"/><rect x="272" y="278" width="15.5" height="5.5" fill="#fb7"/><rect x="287" y="278" width="10.5" height="5.5" fill="#fa6"/><rect x="297" y="278" width="10.5" height="5.5" fill="#f95"/><rect x="307" y="278" width="5.5" height="5.5" fill="#f94"/><rect x="312" y="278" width="5.5" height="5.5" fill="#f84"/><rect x="317" y="278" width="10.5" height="5.5" fill="#f83"/><rect x="327" y="278" width="5.5" height="5.5" fill="#f72"/><rect x="332" y="278" width="5.5" height="5.5" fill="#f71"/><rect x="337" y="278" width="10.5" height="5.5" fill="#f70"/><rect x="347" y="278" width="15.5" height="5.5" fill="#f60"/><rect x="92" y="283" width="90.5" height="5.5" fill="#0fd"/><rect x="182" y="283" width="10.5" height="5.5" fill="#0fc"/><rect x="192" y="283" width="5.5" height="5.5" fill="#1fc"/><rect x="197" y="283" width="5.5" height="5.5" fill="#5fc"/><rect x="202" y="283" width="5.5" height="5.5" fill="#7fc"/><rect x="207" y="283" width="5.5" height="5.5" fill="#8fc"/><rect x="212" y="283" width="5.5" height="5.5" fill="#afc"/><rect x="217" y="283" width="5.5" height="5.5" fill="#bfc"/><rect x="222" y="283" width="5.5" height="5.5" fill="#cfc"/><rect x="227" y="283" width="5.5" height="5.5" fill="#dfc"/><rect x="232" y="283" width="10.5" height="5.5" fill="#efc"/><rect x="242" y="283" width="5.5" height="5.5" fill="#ffb"/><rect x="247" y="283" width="5.5" height="5.5" fill="#feb"/><rect x="252" y="283" width="5.5" height="5.5" fill="#fda"/><rect x="257" y="283" width="5.5" height="5.5" fill="#fd9"/><rect x="262" y="283" width="5.5" height="5.5" fill="#fc9"/><rect x="267" y="283" width="10.5" height="5.5" fill="#fb8"/><rect x="277" y="283" width="5.5" height="5.5" fill="#fb7"/><rect x="282" y="283" width="5.5" height="5.5" fill="#fa7"/><rect x="287" y="283" width="5.5" height="5.5" fill="#fa6"/><rect x="292" y="283" width="10.5" height="5.5" fill="#f96"/><rect x="302" y="283" width="5.5" height="5.5" fill="#f95"/><rect x="307" y="283" width="5.5" height="5.5" fill="#f85"/><rect x="312" y="283" width="10.5" height="5.5" fill="#f84"/><rect x="322" y="283" width="10.5" height="5.5" fill="#f73"/><rect x="332" y="283" width="5.5" height="5.5" fill="#f72"/><rect x="337" y="283" width="5.5" height="5.5" fill="#f71"/><rect x="342" y="283" width="15.5" height="5.5" fill="#f60"/><rect x="357" y="283" width="10.5" height="5.5" fill="#f50"/><rect x="97" y="288" width="5.5" height="5.5" fill="#0fe"/><rect x="102" y="288" width="90.5" height="5.5" fill="#0fd"/><rect x="192" y="288" width="5.5" height="5.5" fill="#3fd"/><rect x="197" y="288" width="5.5" height="5.5" fill="#6fd"/><rect x="202" y="288" width="5.5" height="5.5" fill="#7fd"/><rect x="207" y="288" width="5.5" height="5.5" fill="#9fd"/><rect x="212" y="288" width="5.5" height="5.5" fill="#afd"/><rect x="217" y="288" width="5.5" height="5.5" fill="#bfc"/><rect x="222" y="288" width="5.5" height="5.5" fill="#cfc"/><rect x="227" y="288" width="5.5" height="5.5" fill="#dfc"/><rect x="232" y="288" width="5.5" height="5.5" fill="#efc"/><rect x="237" y="288" width="5.5" height="5.5" fill="#ffc"/><rect x="242" y="288" width="5.5" height="5.5" fill="#feb"/><rect x="247" y="288" width="5.5" height="5.5" fill="#fdb"/><rect x="252" y="288" width="5.5" height="5.5" fill="#fda"/><rect x="257" y="288" width="5.5" height="5.5" fill="#fca"/><rect x="262" y="288" width="5.5" height="5.5" fill="#fc9"/><rect x="267" y="288" width="10.5" height="5.5" fill="#fb8"/><rect x="277" y="288" width="5.5" height="5.5" fill="#fa8"/><rect x="282" y="288" width="5.5" height="5.5" fill="#fa7"/><rect x="287" y="288" width="5.5" height="5.5" fill="#f97"/><rect x="292" y="288" width="10.5" height="5.5" fill="#f96"/><rect x="302" y="288" width="5.5" height="5.5" fill="#f86"/><rect x="307" y="288" width="10.5" height="5.5" fill="#f85"/><rect x="317" y="288" width="10.5" height="5.5" fill="#f74"/><rect x="327" y="288" width="5.5" height="5.5" fill="#f73"/><rect x="332" y="288" width="5.5" height="5.5" fill="#f63"/><rect x="337" y="288" width="5.5" height="5.5" fill="#f62"/><rect x="342" y="288" width="5.5" height="5.5" fill="#f61"/><rect x="347" y="288" width="5.5" height="5.5" fill="#f60"/><rect x="352" y="288" width="20.5" height="5.5" fill="#f50"/><rect x="97" y="293" width="70.5" height="5.5" fill="#0fe"/><rect x="167" y="293" width="25.5" height="5.5" fill="#0fd"/><rect x="192" y="293" width="5.5" height="5.5" fill="#4fd"/><rect x="197" y="293" width="5.5" height="5.5" fill="#6fd"/><rect x="202" y="293" width="5.5" height="5.5" fill="#8fd"/><rect x="207" y="293" width="5.5" height="5.5" fill="#9fd"/><rect x="212" y="293" width="5.5" height="5.5" fill="#bfd"/><rect x="217" y="293" width="5.5" height="5.5" fill="#cfd"/><rect x="222" y="293" width="5.5" height="5.5" fill="#dfd"/><rect x="227" y="293" width="5.5" height="5.5" fill="#efd"/><rect x="232" y="293" width="5.5" height="5.5" fill="#ffd"/><rect x="237" y="293" width="10.5" height="5.5" fill="#fec"/><rect x="247" y="293" width="5.5" height="5.5" fill="#fdb"/><rect x="252" y="293" width="10.5" height="5.5" fill="#fca"/><rect x="262" y="293" width="10.5" height="5.5" fill="#fb9"/><rect x="272" y="293" width="10.5" height="5.5" fill="#fa8"/><rect x="282" y="293" width="15.5" height="5.5" fill="#f97"/><rect x="297" y="293" width="10.5" height="5.5" fill="#f86"/><rect x="307" y="293" width="5.5" height="5.5" fill="#f85"/><rect x="312" y="293" width="10.5" height="5.5" fill="#f75"/><rect x="322" y="293" width="5.5" height="5.5" fill="#f74"/><rect x="327" y="293" width="5.5" height="5.5" fill="#f64"/><rect x="332" y="293" width="10.5" height="5.5" fill="#f63"/><rect x="342" y="293" width="5.5" height="5.5" fill="#f62"/><rect x="347" y="293" width="5.5" height="5.5" fill="#f52"/><rect x="352" y="293" width="10.5" height="5.5" fill="#f50"/><rect x="362" y="293" width="15.5" height="5.5" fill="#f40"/><rect x="97" y="298" width="95.5" height="5.5" fill="#0fe"/><rect x="192" y="298" width="5.5" height="5.5" fill="#5fe"/><rect x="197" y="298" width="5.5" height="5.5" fill="#7fe"/><rect x="202" y="298" width="5.5" height="5.5" fill="#9fe"/><rect x="207" y="298" width="5.5" height="5.5" fill="#afe"/><rect x="212" y="298" width="5.5" height="5.5" fill="#bfe"/><rect x="217" y="298" width="5.5" height="5.5" fill="#cfe"/><rect x="222" y="298" width="5.5" height="5.5" fill="#dfe"/><rect x="227" y="298" width="5.5" height="5.5" fill="#efe"/><rect x="232" y="298" width="5.5" height="5.5" fill="#ffd"/><rect x="237" y="298" width="5.5" height="5.5" fill="#fec"/><rect x="242" y="298" width="5.5" height="5.5" fill="#fdc"/><rect x="247" y="298" width="5.5" height="5.5" fill="#fcb"/><rect x="252" y="298" width="5.5" height="5.5" fill="#fca"/><rect x="257" y="298" width="5.5" height="5.5" fill="#fba"/><rect x="262" y="298" width="5.5" height="5.5" fill="#fb9"/><rect x="267" y="298" width="5.5" height="5.5" fill="#fa9"/><rect x="272" y="298" width="5.5" height="5.5" fill="#fa8"/><rect x="277" y="298" width="10.5" height="5.5" fill="#f98"/><rect x="287" y="298" width="5.5" height="5.5" fill="#f97"/><rect x="292" y="298" width="5.5" height="5.5" fill="#f87"/><rect x="297" y="298" width="10.5" height="5.5" fill="#f86"/><rect x="307" y="298" width="5.5" height="5.5" fill="#f76"/><rect x="312" y="298" width="10.5" height="5.5" fill="#f75"/><rect x="322" y="298" width="5.5" height="5.5" fill="#f65"/><rect x="327" y="298" width="10.5" height="5.5" fill="#f64"/><rect x="337" y="298" width="10.5" height="5.5" fill="#f53"/><rect x="347" y="298" width="5.5" height="5.5" fill="#f52"/><rect x="352" y="298" width="5.5" height="5.5" fill="#f42"/><rect x="357" y="298" width="5.5" height="5.5" fill="#f41"/><rect x="362" y="298" width="5.5" height="5.5" fill="#f40"/><rect x="367" y="298" width="15.5" height="5.5" fill="#f30"/><rect x="97" y="303" width="15.5" height="5.5" fill="#0ff"/><rect x="112" y="303" width="75.5" height="5.5" fill="#0fe"/><rect x="187" y="303" width="5.5" height="5.5" fill="#2fe"/><rect x="192" y="303" width="5.5" height="5.5" fill="#6fe"/><rect x="197" y="303" width="5.5" height="5.5" fill="#8fe"/><rect x="202" y="303" width="5.5" height="5.5" fill="#9fe"/><rect x="207" y="303" width="5.5" height="5.5" fill="#afe"/><rect x="212" y="303" width="5.5" height="5.5" fill="#cfe"/><rect x="217" y="303" width="5.5" height="5.5" fill="#dfe"/><rect x="222" y="303" width="5.5" height="5.5" fill="#efe"/><rect x="227" y="303" width="5.5" height="5.5" fill="#ffe"/><rect x="232" y="303" width="5.5" height="5.5" fill="#fed"/><rect x="237" y="303" width="5.5" height="5.5" fill="#fdd"/><rect x="242" y="303" width="5.5" height="5.5" fill="#fdc"/><rect x="247" y="303" width="5.5" height="5.5" fill="#fcb"/><rect x="252" y="303" width="5.5" height="5.5" fill="#fbb"/><rect x="257" y="303" width="5.5" height="5.5" fill="#fba"/><rect x="262" y="303" width="5.5" height="5.5" fill="#faa"/><rect x="267" y="303" width="5.5" height="5.5" fill="#fa9"/><rect x="272" y="303" width="5.5" height="5.5" fill="#f99"/><rect x="277" y="303" width="10.5" height="5.5" fill="#f98"/><rect x="287" y="303" width="15.5" height="5.5" fill="#f87"/><rect x="302" y="303" width="15.5" height="5.5" fill="#f76"/><rect x="317" y="303" width="15.5" height="5.5" fill="#f65"/><rect x="332" y="303" width="15.5" height="5.5" fill="#f54"/><rect x="347" y="303" width="10.5" height="5.5" fill="#f43"/><rect x="357" y="303" width="5.5" height="5.5" fill="#f42"/><rect x="362" y="303" width="5.5" height="5.5" fill="#f31"/><rect x="367" y="303" width="5.5" height="5.5" fill="#f30"/><rect x="372" y="303" width="10.5" height="5.5" fill="#f20"/><rect x="382" y="303" width="5.5" height="5.5" fill="#f00"/><rect x="97" y="308" width="90.5" height="5.5" fill="#0ff"/><rect x="187" y="308" width="5.5" height="5.5" fill="#4ff"/><rect x="192" y="308" width="5.5" height="5.5" fill="#6ff"/><rect x="197" y="308" width="5.5" height="5.5" fill="#8ff"/><rect x="202" y="308" width="5.5" height="5.5" fill="#aff"/><rect x="207" y="308" width="5.5" height="5.5" fill="#bff"/><rect x="212" y="308" width="5.5" height="5.5" fill="#cff"/><rect x="217" y="308" width="5.5" height="5.5" fill="#dff"/><rect x="222" y="308" width="5.5" height="5.5" fill="#eff"/><rect x="227" y="308" width="5.5" height="5.5" fill="#ffe"/><rect x="232" y="308" width="5.5" height="5.5" fill="#fed"/><rect x="237" y="308" width="5.5" height="5.5" fill="#fdd"/><rect x="242" y="308" width="5.5" height="5.5" fill="#fcc"/><rect x="247" y="308" width="5.5" height="5.5" fill="#fcb"/><rect x="252" y="308" width="5.5" height="5.5" fill="#fbb"/><rect x="257" y="308" width="10.5" height="5.5" fill="#faa"/><rect x="267" y="308" width="10.5" height="5.5" fill="#f99"/><rect x="277" y="308" width="5.5" height="5.5" fill="#f98"/><rect x="282" y="308" width="10.5" height="5.5" fill="#f88"/><rect x="292" y="308" width="15.5" height="5.5" fill="#f77"/><rect x="307" y="308" width="15.5" height="5.5" fill="#f66"/><rect x="322" y="308" width="15.5" height="5.5" fill="#f55"/><rect x="337" y="308" width="15.5" height="5.5" fill="#f44"/><rect x="352" y="308" width="10.5" height="5.5" fill="#f33"/><rect x="362" y="308" width="5.5" height="5.5" fill="#f22"/><rect x="367" y="308" width="5.5" height="5.5" fill="#f21"/><rect x="372" y="308" width="5.5" height="5.5" fill="#f10"/><rect x="377" y="308" width="15.5" height="5.5" fill="#f00"/><rect x="102" y="313" width="85.5" height="5.5" fill="#0ff"/><rect x="187" y="313" width="5.5" height="5.5" fill="#4ff"/><rect x="192" y="313" width="5.5" height="5.5" fill="#7ff"/><rect x="197" y="313" width="5.5" height="5.5" fill="#9ff"/><rect x="202" y="313" width="5.5" height="5.5" fill="#aff"/><rect x="207" y="313" width="5.5" height="5.5" fill="#bff"/><rect x="212" y="313" width="5.5" height="5.5" fill="#cff"/><rect x="217" y="313" width="5.5" height="5.5" fill="#dff"/><rect x="222" y="313" width="5.5" height="5.5" fill="#fff"/><rect x="227" y="313" width="5.5" height="5.5" fill="#fee"/><rect x="232" y="313" width="5.5" height="5.5" fill="#fde"/><rect x="237" y="313" width="5.5" height="5.5" fill="#fcd"/><rect x="242" y="313" width="5.5" height="5.5" fill="#fcc"/><rect x="247" y="313" width="5.5" height="5.5" fill="#fbc"/><rect x="252" y="313" width="5.5" height="5.5" fill="#fab"/><rect x="257" y="313" width="5.5" height="5.5" fill="#faa"/><rect x="262" y="313" width="10.5" height="5.5" fill="#f9a"/><rect x="272" y="313" width="5.5" height="5.5" fill="#f99"/><rect x="277" y="313" width="5.5" height="5.5" fill="#f89"/><rect x="282" y="313" width="5.5" height="5.5" fill="#f88"/><rect x="287" y="313" width="10.5" height="5.5" fill="#f78"/><rect x="297" y="313" width="5.5" height="5.5" fill="#f77"/><rect x="302" y="313" width="10.5" height="5.5" fill="#f67"/><rect x="312" y="313" width="5.5" height="5.5" fill="#f66"/><rect x="317" y="313" width="10.5" height="5.5" fill="#f56"/><rect x="327" y="313" width="5.5" height="5.5" fill="#f55"/><rect x="332" y="313" width="10.5" height="5.5" fill="#f45"/><rect x="342" y="313" width="5.5" height="5.5" fill="#f44"/><rect x="347" y="313" width="10.5" height="5.5" fill="#f34"/><rect x="357" y="313" width="5.5" height="5.5" fill="#f23"/><rect x="362" y="313" width="5.5" height="5.5" fill="#f13"/><rect x="367" y="313" width="10.5" height="5.5" fill="#f02"/><rect x="377" y="313" width="20.5" height="5.5" fill="#f00"/><rect x="102" y="318" width="85.5" height="5.5" fill="#0ef"/><rect x="187" y="318" width="5.5" height="5.5" fill="#5ef"/><rect x="192" y="318" width="5.5" height="5.5" fill="#7ef"/><rect x="197" y="318" width="5.5" height="5.5" fill="#9ef"/><rect x="202" y="318" width="5.5" height="5.5" fill="#aef"/><rect x="207" y="318" width="5.5" height="5.5" fill="#bef"/><rect x="212" y="318" width="5.5" height="5.5" fill="#cef"/><rect x="217" y="318" width="5.5" height="5.5" fill="#def"/><rect x="222" y="318" width="5.5" height="5.5" fill="#fef"/><rect x="227" y="318" width="5.5" height="5.5" fill="#fdf"/><rect x="232" y="318" width="5.5" height="5.5" fill="#fde"/><rect x="237" y="318" width="5.5" height="5.5" fill="#fcd"/><rect x="242" y="318" width="10.5" height="5.5" fill="#fbc"/><rect x="252" y="318" width="10.5" height="5.5" fill="#fab"/><rect x="262" y="318" width="10.5" height="5.5" fill="#f9a"/><rect x="272" y="318" width="10.5" height="5.5" fill="#f89"/><rect x="282" y="318" width="15.5" height="5.5" fill="#f78"/><rect x="297" y="318" width="15.5" height="5.5" fill="#f67"/><rect x="312" y="318" width="10.5" height="5.5" fill="#f56"/><rect x="322" y="318" width="10.5" height="5.5" fill="#f46"/><rect x="332" y="318" width="5.5" height="5.5" fill="#f45"/><rect x="337" y="318" width="10.5" height="5.5" fill="#f35"/><rect x="347" y="318" width="5.5" height="5.5" fill="#f24"/><rect x="352" y="318" width="5.5" height="5.5" fill="#f14"/><rect x="357" y="318" width="5.5" height="5.5" fill="#f04"/><rect x="362" y="318" width="10.5" height="5.5" fill="#f03"/><rect x="372" y="318" width="10.5" height="5.5" fill="#f02"/><rect x="382" y="318" width="5.5" height="5.5" fill="#f01"/><rect x="387" y="318" width="15.5" height="5.5" fill="#f00"/><rect x="102" y="323" width="80.5" height="5.5" fill="#0ef"/><rect x="182" y="323" width="5.5" height="5.5" fill="#3ef"/><rect x="187" y="323" width="5.5" height="5.5" fill="#6ef"/><rect x="192" y="323" width="5.5" height="5.5" fill="#8ef"/><rect x="197" y="323" width="5.5" height="5.5" fill="#9df"/><rect x="202" y="323" width="5.5" height="5.5" fill="#adf"/><rect x="207" y="323" width="5.5" height="5.5" fill="#bdf"/><rect x="212" y="323" width="5.5" height="5.5" fill="#ddf"/><rect x="217" y="323" width="10.5" height="5.5" fill="#edf"/><rect x="227" y="323" width="5.5" height="5.5" fill="#fdf"/><rect x="232" y="323" width="5.5" height="5.5" fill="#fce"/><rect x="237" y="323" width="5.5" height="5.5" fill="#fbd"/><rect x="242" y="323" width="5.5" height="5.5" fill="#fbc"/><rect x="247" y="323" width="5.5" height="5.5" fill="#fac"/><rect x="252" y="323" width="5.5" height="5.5" fill="#fab"/><rect x="257" y="323" width="5.5" height="5.5" fill="#f9b"/><rect x="262" y="323" width="5.5" height="5.5" fill="#f9a"/><rect x="267" y="323" width="5.5" height="5.5" fill="#f8a"/><rect x="272" y="323" width="5.5" height="5.5" fill="#f89"/><rect x="277" y="323" width="10.5" height="5.5" fill="#f79"/><rect x="287" y="323" width="5.5" height="5.5" fill="#f78"/><rect x="292" y="323" width="10.5" height="5.5" fill="#f68"/><rect x="302" y="323" width="15.5" height="5.5" fill="#f57"/><rect x="317" y="323" width="10.5" height="5.5" fill="#f46"/><rect x="327" y="323" width="10.5" height="5.5" fill="#f36"/><rect x="337" y="323" width="10.5" height="5.5" fill="#f25"/><rect x="347" y="323" width="5.5" height="5.5" fill="#f05"/><rect x="352" y="323" width="15.5" height="5.5" fill="#f04"/><rect x="367" y="323" width="10.5" height="5.5" fill="#f03"/><rect x="377" y="323" width="10.5" height="5.5" fill="#f02"/><rect x="387" y="323" width="5.5" height="5.5" fill="#f01"/><rect x="392" y="323" width="15.5" height="5.5" fill="#f00"/><rect x="102" y="328" width="35.5" height="5.5" fill="#0ef"/><rect x="137" y="328" width="45.5" height="5.5" fill="#0df"/><rect x="182" y="328" width="5.5" height="5.5" fill="#4df"/><rect x="187" y="328" width="5.5" height="5.5" fill="#6df"/><rect x="192" y="328" width="5.5" height="5.5" fill="#8df"/><rect x="197" y="328" width="5.5" height="5.5" fill="#9df"/><rect x="202" y="328" width="5.5" height="5.5" fill="#adf"/><rect x="207" y="328" width="5.5" height="5.5" fill="#cdf"/><rect x="212" y="328" width="5.5" height="5.5" fill="#ddf"/><rect x="217" y="328" width="10.5" height="5.5" fill="#edf"/><rect x="227" y="328" width="5.5" height="5.5" fill="#fcf"/><rect x="232" y="328" width="5.5" height="5.5" fill="#fbe"/><rect x="237" y="328" width="5.5" height="5.5" fill="#fbd"/><rect x="242" y="328" width="10.5" height="5.5" fill="#fac"/><rect x="252" y="328" width="10.5" height="5.5" fill="#f9b"/><rect x="262" y="328" width="10.5" height="5.5" fill="#f8a"/><rect x="272" y="328" width="5.5" height="5.5" fill="#f7a"/><rect x="277" y="328" width="5.5" height="5.5" fill="#f79"/><rect x="282" y="328" width="5.5" height="5.5" fill="#f69"/><rect x="287" y="328" width="10.5" height="5.5" fill="#f68"/><rect x="297" y="328" width="10.5" height="5.5" fill="#f58"/><rect x="307" y="328" width="15.5" height="5.5" fill="#f47"/><rect x="322" y="328" width="5.5" height="5.5" fill="#f36"/><rect x="327" y="328" width="10.5" height="5.5" fill="#f26"/><rect x="337" y="328" width="20.5" height="5.5" fill="#f05"/><rect x="357" y="328" width="15.5" height="5.5" fill="#f04"/><rect x="372" y="328" width="15.5" height="5.5" fill="#f03"/><rect x="387" y="328" width="5.5" height="5.5" fill="#f02"/><rect x="392" y="328" width="5.5" height="5.5" fill="#f01"/><rect x="397" y="328" width="15.5" height="5.5" fill="#f00"/><rect x="102" y="333" width="80.5" height="5.5" fill="#0df"/><rect x="182" y="333" width="5.5" height="5.5" fill="#5df"/><rect x="187" y="333" width="5.5" height="5.5" fill="#7df"/><rect x="192" y="333" width="5.5" height="5.5" fill="#8cf"/><rect x="197" y="333" width="5.5" height="5.5" fill="#9cf"/><rect x="202" y="333" width="5.5" height="5.5" fill="#bcf"/><rect x="207" y="333" width="5.5" height="5.5" fill="#ccf"/><rect x="212" y="333" width="5.5" height="5.5" fill="#dcf"/><rect x="217" y="333" width="10.5" height="5.5" fill="#ecf"/><rect x="227" y="333" width="5.5" height="5.5" fill="#fcf"/><rect x="232" y="333" width="5.5" height="5.5" fill="#fbe"/><rect x="237" y="333" width="10.5" height="5.5" fill="#fad"/><rect x="247" y="333" width="5.5" height="5.5" fill="#f9c"/><rect x="252" y="333" width="5.5" height="5.5" fill="#f9b"/><rect x="257" y="333" width="10.5" height="5.5" fill="#f8b"/><rect x="267" y="333" width="10.5" height="5.5" fill="#f7a"/><rect x="277" y="333" width="10.5" height="5.5" fill="#f69"/><rect x="287" y="333" width="5.5" height="5.5" fill="#f59"/><rect x="292" y="333" width="10.5" height="5.5" fill="#f58"/><rect x="302" y="333" width="5.5" height="5.5" fill="#f48"/><rect x="307" y="333" width="5.5" height="5.5" fill="#f47"/><rect x="312" y="333" width="10.5" height="5.5" fill="#f37"/><rect x="322" y="333" width="5.5" height="5.5" fill="#f27"/><rect x="327" y="333" width="5.5" height="5.5" fill="#f16"/><rect x="332" y="333" width="10.5" height="5.5" fill="#f06"/><rect x="342" y="333" width="20.5" height="5.5" fill="#f05"/><rect x="362" y="333" width="15.5" height="5.5" fill="#f04"/><rect x="377" y="333" width="15.5" height="5.5" fill="#f03"/><rect x="392" y="333" width="5.5" height="5.5" fill="#f02"/><rect x="397" y="333" width="5.5" height="5.5" fill="#f01"/><rect x="402" y="333" width="15.5" height="5.5" fill="#f00"/><rect x="107" y="338" width="45.5" height="5.5" fill="#0df"/><rect x="152" y="338" width="25.5" height="5.5" fill="#0cf"/><rect x="177" y="338" width="5.5" height="5.5" fill="#2cf"/><rect x="182" y="338" width="5.5" height="5.5" fill="#5cf"/><rect x="187" y="338" width="5.5" height="5.5" fill="#7cf"/><rect x="192" y="338" width="5.5" height="5.5" fill="#8cf"/><rect x="197" y="338" width="5.5" height="5.5" fill="#acf"/><rect x="202" y="338" width="5.5" height="5.5" fill="#bcf"/><rect x="207" y="338" width="5.5" height="5.5" fill="#ccf"/><rect x="212" y="338" width="5.5" height="5.5" fill="#dcf"/><rect x="217" y="338" width="10.5" height="5.5" fill="#ebf"/><rect x="227" y="338" width="5.5" height="5.5" fill="#fbf"/><rect x="232" y="338" width="5.5" height="5.5" fill="#fae"/><rect x="237" y="338" width="5.5" height="5.5" fill="#fad"/><rect x="242" y="338" width="5.5" height="5.5" fill="#f9d"/><rect x="247" y="338" width="5.5" height="5.5" fill="#f9c"/><rect x="252" y="338" width="5.5" height="5.5" fill="#f8c"/><rect x="257" y="338" width="5.5" height="5.5" fill="#f8b"/><rect x="262" y="338" width="5.5" height="5.5" fill="#f7b"/><rect x="267" y="338" width="5.5" height="5.5" fill="#f7a"/><rect x="272" y="338" width="10.5" height="5.5" fill="#f6a"/><rect x="282" y="338" width="10.5" height="5.5" fill="#f59"/><rect x="292" y="338" width="10.5" height="5.5" fill="#f48"/><rect x="302" y="338" width="10.5" height="5.5" fill="#f38"/><rect x="312" y="338" width="5.5" height="5.5" fill="#f27"/><rect x="317" y="338" width="5.5" height="5.5" fill="#f17"/><rect x="322" y="338" width="5.5" height="5.5" fill="#f07"/><rect x="327" y="338" width="20.5" height="5.5" fill="#f06"/><rect x="347" y="338" width="20.5" height="5.5" fill="#f05"/><rect x="367" y="338" width="15.5" height="5.5" fill="#f04"/><rect x="382" y="338" width="15.5" height="5.5" fill="#f03"/><rect x="397" y="338" width="10.5" height="5.5" fill="#f02"/><rect x="407" y="338" width="5.5" height="5.5" fill="#f01"/><rect x="412" y="338" width="10.5" height="5.5" fill="#f00"/><rect x="107" y="343" width="10.5" height="5.5" fill="#0df"/><rect x="117" y="343" width="60.5" height="5.5" fill="#0cf"/><rect x="177" y="343" width="5.5" height="5.5" fill="#3cf"/><rect x="182" y="343" width="5.5" height="5.5" fill="#6cf"/><rect x="187" y="343" width="5.5" height="5.5" fill="#7cf"/><rect x="192" y="343" width="5.5" height="5.5" fill="#9bf"/><rect x="197" y="343" width="5.5" height="5.5" fill="#abf"/><rect x="202" y="343" width="5.5" height="5.5" fill="#bbf"/><rect x="207" y="343" width="5.5" height="5.5" fill="#cbf"/><rect x="212" y="343" width="5.5" height="5.5" fill="#dbf"/><rect x="217" y="343" width="10.5" height="5.5" fill="#ebf"/><rect x="227" y="343" width="5.5" height="5.5" fill="#faf"/><rect x="232" y="343" width="5.5" height="5.5" fill="#fae"/><rect x="237" y="343" width="10.5" height="5.5" fill="#f9d"/><rect x="247" y="343" width="5.5" height="5.5" fill="#f8c"/><rect x="252" y="343" width="5.5" height="5.5" fill="#f7c"/><rect x="257" y="343" width="5.5" height="5.5" fill="#f7b"/><rect x="262" y="343" width="5.5" height="5.5" fill="#f6b"/><rect x="267" y="343" width="10.5" height="5.5" fill="#f6a"/><rect x="277" y="343" width="5.5" height="5.5" fill="#f5a"/><rect x="282" y="343" width="5.5" height="5.5" fill="#f59"/><rect x="287" y="343" width="10.5" height="5.5" fill="#f49"/><rect x="297" y="343" width="5.5" height="5.5" fill="#f38"/><rect x="302" y="343" width="5.5" height="5.5" fill="#f28"/><rect x="307" y="343" width="5.5" height="5.5" fill="#f18"/><rect x="312" y="343" width="20.5" height="5.5" fill="#f07"/><rect x="332" y="343" width="20.5" height="5.5" fill="#f06"/><rect x="352" y="343" width="20.5" height="5.5" fill="#f05"/><rect x="372" y="343" width="15.5" height="5.5" fill="#f04"/><rect x="387" y="343" width="15.5" height="5.5" fill="#f03"/><rect x="402" y="343" width="10.5" height="5.5" fill="#f02"/><rect x="412" y="343" width="5.5" height="5.5" fill="#f01"/><rect x="417" y="343" width="5.5" height="5.5" fill="#f00"/><rect x="107" y="348" width="55.5" height="5.5" fill="#0cf"/><rect x="162" y="348" width="15.5" height="5.5" fill="#0bf"/><rect x="177" y="348" width="5.5" height="5.5" fill="#4bf"/><rect x="182" y="348" width="5.5" height="5.5" fill="#6bf"/><rect x="187" y="348" width="5.5" height="5.5" fill="#8bf"/><rect x="192" y="348" width="5.5" height="5.5" fill="#9bf"/><rect x="197" y="348" width="5.5" height="5.5" fill="#abf"/><rect x="202" y="348" width="5.5" height="5.5" fill="#bbf"/><rect x="207" y="348" width="5.5" height="5.5" fill="#cbf"/><rect x="212" y="348" width="5.5" height="5.5" fill="#daf"/><rect x="217" y="348" width="10.5" height="5.5" fill="#eaf"/><rect x="227" y="348" width="5.5" height="5.5" fill="#faf"/><rect x="232" y="348" width="5.5" height="5.5" fill="#f9e"/><rect x="237" y="348" width="10.5" height="5.5" fill="#f8d"/><rect x="247" y="348" width="10.5" height="5.5" fill="#f7c"/><rect x="257" y="348" width="10.5" height="5.5" fill="#f6b"/><rect x="267" y="348" width="5.5" height="5.5" fill="#f5b"/><rect x="272" y="348" width="5.5" height="5.5" fill="#f5a"/><rect x="277" y="348" width="5.5" height="5.5" fill="#f4a"/><rect x="282" y="348" width="5.5" height="5.5" fill="#f49"/><rect x="287" y="348" width="10.5" height="5.5" fill="#f39"/><rect x="297" y="348" width="5.5" height="5.5" fill="#f28"/><rect x="302" y="348" width="15.5" height="5.5" fill="#f08"/><rect x="317" y="348" width="20.5" height="5.5" fill="#f07"/><rect x="337" y="348" width="20.5" height="5.5" fill="#f06"/><rect x="357" y="348" width="20.5" height="5.5" fill="#f05"/><rect x="377" y="348" width="15.5" height="5.5" fill="#f04"/><rect x="392" y="348" width="15.5" height="5.5" fill="#f03"/><rect x="107" y="353" width="30.5" height="5.5" fill="#0cf"/><rect x="137" y="353" width="40.5" height="5.5" fill="#0bf"/><rect x="177" y="353" width="5.5" height="5.5" fill="#5bf"/><rect x="182" y="353" width="5.5" height="5.5" fill="#6bf"/><rect x="187" y="353" width="5.5" height="5.5" fill="#8af"/><rect x="192" y="353" width="5.5" height="5.5" fill="#9af"/><rect x="197" y="353" width="5.5" height="5.5" fill="#aaf"/><rect x="202" y="353" width="5.5" height="5.5" fill="#baf"/><rect x="207" y="353" width="5.5" height="5.5" fill="#caf"/><rect x="212" y="353" width="5.5" height="5.5" fill="#daf"/><rect x="217" y="353" width="5.5" height="5.5" fill="#eaf"/><rect x="222" y="353" width="5.5" height="5.5" fill="#e9f"/><rect x="227" y="353" width="5.5" height="5.5" fill="#f9f"/><rect x="232" y="353" width="10.5" height="5.5" fill="#f8e"/><rect x="242" y="353" width="5.5" height="5.5" fill="#f7d"/><rect x="247" y="353" width="5.5" height="5.5" fill="#f7c"/><rect x="252" y="353" width="5.5" height="5.5" fill="#f6c"/><rect x="257" y="353" width="5.5" height="5.5" fill="#f6b"/><rect x="262" y="353" width="10.5" height="5.5" fill="#f5b"/><rect x="272" y="353" width="10.5" height="5.5" fill="#f4a"/><rect x="282" y="353" width="5.5" height="5.5" fill="#f3a"/><rect x="287" y="353" width="5.5" height="5.5" fill="#f29"/><rect x="292" y="353" width="10.5" height="5.5" fill="#f09"/><rect x="302" y="353" width="20.5" height="5.5" fill="#f08"/><rect x="322" y="353" width="20.5" height="5.5" fill="#f07"/><rect x="342" y="353" width="20.5" height="5.5" fill="#f06"/><rect x="362" y="353" width="20.5" height="5.5" fill="#f05"/><rect x="382" y="353" width="10.5" height="5.5" fill="#f04"/><rect x="112" y="358" width="55.5" height="5.5" fill="#0bf"/><rect x="167" y="358" width="5.5" height="5.5" fill="#0af"/><rect x="172" y="358" width="5.5" height="5.5" fill="#2af"/><rect x="177" y="358" width="5.5" height="5.5" fill="#5af"/><rect x="182" y="358" width="5.5" height="5.5" fill="#7af"/><rect x="187" y="358" width="5.5" height="5.5" fill="#8af"/><rect x="192" y="358" width="5.5" height="5.5" fill="#9af"/><rect x="197" y="358" width="5.5" height="5.5" fill="#aaf"/><rect x="202" y="358" width="5.5" height="5.5" fill="#baf"/><rect x="207" y="358" width="5.5" height="5.5" fill="#c9f"/><rect x="212" y="358" width="5.5" height="5.5" fill="#d9f"/><rect x="217" y="358" width="10.5" height="5.5" fill="#e9f"/><rect x="227" y="358" width="5.5" height="5.5" fill="#f8f"/><rect x="232" y="358" width="5.5" height="5.5" fill="#f8e"/><rect x="237" y="358" width="5.5" height="5.5" fill="#f7e"/><rect x="242" y="358" width="5.5" height="5.5" fill="#f7d"/><rect x="247" y="358" width="5.5" height="5.5" fill="#f6d"/><rect x="252" y="358" width="10.5" height="5.5" fill="#f5c"/><rect x="262" y="358" width="10.5" height="5.5" fill="#f4b"/><rect x="272" y="358" width="5.5" height="5.5" fill="#f3a"/><rect x="277" y="358" width="5.5" height="5.5" fill="#f2a"/><rect x="282" y="358" width="5.5" height="5.5" fill="#f1a"/><rect x="287" y="358" width="20.5" height="5.5" fill="#f09"/><rect x="307" y="358" width="15.5" height="5.5" fill="#f08"/><rect x="322" y="358" width="20.5" height="5.5" fill="#f07"/><rect x="342" y="358" width="25.5" height="5.5" fill="#f06"/><rect x="367" y="358" width="15.5" height="5.5" fill="#f05"/><rect x="112" y="363" width="35.5" height="5.5" fill="#0bf"/><rect x="147" y="363" width="25.5" height="5.5" fill="#0af"/><rect x="172" y="363" width="5.5" height="5.5" fill="#3af"/><rect x="177" y="363" width="5.5" height="5.5" fill="#6af"/><rect x="182" y="363" width="5.5" height="5.5" fill="#7af"/><rect x="187" y="363" width="5.5" height="5.5" fill="#89f"/><rect x="192" y="363" width="5.5" height="5.5" fill="#99f"/><rect x="197" y="363" width="5.5" height="5.5" fill="#a9f"/><rect x="202" y="363" width="5.5" height="5.5" fill="#b9f"/><rect x="207" y="363" width="5.5" height="5.5" fill="#c9f"/><rect x="212" y="363" width="5.5" height="5.5" fill="#d8f"/><rect x="217" y="363" width="10.5" height="5.5" fill="#e8f"/><rect x="227" y="363" width="5.5" height="5.5" fill="#f8f"/><rect x="232" y="363" width="5.5" height="5.5" fill="#f7e"/><rect x="237" y="363" width="5.5" height="5.5" fill="#f6e"/><rect x="242" y="363" width="5.5" height="5.5" fill="#f6d"/><rect x="247" y="363" width="5.5" height="5.5" fill="#f5d"/><rect x="252" y="363" width="5.5" height="5.5" fill="#f5c"/><rect x="257" y="363" width="5.5" height="5.5" fill="#f4c"/><rect x="262" y="363" width="5.5" height="5.5" fill="#f3b"/><rect x="267" y="363" width="5.5" height="5.5" fill="#f2b"/><rect x="272" y="363" width="5.5" height="5.5" fill="#f1b"/><rect x="277" y="363" width="15.5" height="5.5" fill="#f0a"/><rect x="292" y="363" width="15.5" height="5.5" fill="#f09"/><rect x="307" y="363" width="20.5" height="5.5" fill="#f08"/><rect x="327" y="363" width="20.5" height="5.5" fill="#f07"/><rect x="347" y="363" width="25.5" height="5.5" fill="#f06"/><rect x="112" y="368" width="15.5" height="5.5" fill="#0bf"/><rect x="127" y="368" width="45.5" height="5.5" fill="#0af"/><rect x="172" y="368" width="5.5" height="5.5" fill="#49f"/><rect x="177" y="368" width="5.5" height="5.5" fill="#69f"/><rect x="182" y="368" width="5.5" height="5.5" fill="#79f"/><rect x="187" y="368" width="5.5" height="5.5" fill="#99f"/><rect x="192" y="368" width="10.5" height="5.5" fill="#a9f"/><rect x="202" y="368" width="5.5" height="5.5" fill="#b8f"/><rect x="207" y="368" width="5.5" height="5.5" fill="#c8f"/><rect x="212" y="368" width="5.5" height="5.5" fill="#d8f"/><rect x="217" y="368" width="5.5" height="5.5" fill="#e8f"/><rect x="222" y="368" width="5.5" height="5.5" fill="#e7f"/><rect x="227" y="368" width="5.5" height="5.5" fill="#f7f"/><rect x="232" y="368" width="10.5" height="5.5" fill="#f6e"/><rect x="242" y="368" width="5.5" height="5.5" fill="#f5d"/><rect x="247" y="368" width="5.5" height="5.5" fill="#f4d"/><rect x="252" y="368" width="5.5" height="5.5" fill="#f4c"/><rect x="257" y="368" width="5.5" height="5.5" fill="#f3c"/><rect x="262" y="368" width="5.5" height="5.5" fill="#f2b"/><rect x="267" y="368" width="10.5" height="5.5" fill="#f0b"/><rect x="277" y="368" width="15.5" height="5.5" fill="#f0a"/><rect x="292" y="368" width="20.5" height="5.5" fill="#f09"/><rect x="312" y="368" width="20.5" height="5.5" fill="#f08"/><rect x="332" y="368" width="20.5" height="5.5" fill="#f07"/><rect x="352" y="368" width="10.5" height="5.5" fill="#f06"/><rect x="112" y="373" width="40.5" height="5.5" fill="#0af"/><rect x="152" y="373" width="15.5" height="5.5" fill="#09f"/><rect x="167" y="373" width="5.5" height="5.5" fill="#19f"/><rect x="172" y="373" width="5.5" height="5.5" fill="#59f"/><rect x="177" y="373" width="5.5" height="5.5" fill="#69f"/><rect x="182" y="373" width="5.5" height="5.5" fill="#89f"/><rect x="187" y="373" width="5.5" height="5.5" fill="#98f"/><rect x="192" y="373" width="5.5" height="5.5" fill="#a8f"/><rect x="197" y="373" width="10.5" height="5.5" fill="#b8f"/><rect x="207" y="373" width="5.5" height="5.5" fill="#c7f"/><rect x="212" y="373" width="5.5" height="5.5" fill="#d7f"/><rect x="217" y="373" width="5.5" height="5.5" fill="#e7f"/><rect x="222" y="373" width="5.5" height="5.5" fill="#e6f"/><rect x="227" y="373" width="5.5" height="5.5" fill="#f6f"/><rect x="232" y="373" width="10.5" height="5.5" fill="#f5e"/><rect x="242" y="373" width="5.5" height="5.5" fill="#f4d"/><rect x="247" y="373" width="5.5" height="5.5" fill="#f3d"/><rect x="252" y="373" width="5.5" height="5.5" fill="#f2c"/><rect x="257" y="373" width="5.5" height="5.5" fill="#f0c"/><rect x="262" y="373" width="15.5" height="5.5" fill="#f0b"/><rect x="277" y="373" width="15.5" height="5.5" fill="#f0a"/><rect x="292" y="373" width="20.5" height="5.5" fill="#f09"/><rect x="312" y="373" width="20.5" height="5.5" fill="#f08"/><rect x="332" y="373" width="20.5" height="5.5" fill="#f07"/><rect x="117" y="378" width="20.5" height="5.5" fill="#0af"/><rect x="137" y="378" width="30.5" height="5.5" fill="#09f"/><rect x="167" y="378" width="5.5" height="5.5" fill="#39f"/><rect x="172" y="378" width="5.5" height="5.5" fill="#58f"/><rect x="177" y="378" width="5.5" height="5.5" fill="#78f"/><rect x="182" y="378" width="5.5" height="5.5" fill="#88f"/><rect x="187" y="378" width="5.5" height="5.5" fill="#98f"/><rect x="192" y="378" width="5.5" height="5.5" fill="#a8f"/><rect x="197" y="378" width="10.5" height="5.5" fill="#b7f"/><rect x="207" y="378" width="5.5" height="5.5" fill="#c7f"/><rect x="212" y="378" width="5.5" height="5.5" fill="#d6f"/><rect x="217" y="378" width="10.5" height="5.5" fill="#e6f"/><rect x="227" y="378" width="5.5" height="5.5" fill="#f5f"/><rect x="232" y="378" width="5.5" height="5.5" fill="#f4e"/><rect x="237" y="378" width="5.5" height="5.5" fill="#f3e"/><rect x="242" y="378" width="5.5" height="5.5" fill="#f2d"/><rect x="247" y="378" width="5.5" height="5.5" fill="#f0d"/><rect x="252" y="378" width="15.5" height="5.5" fill="#f0c"/><rect x="267" y="378" width="10.5" height="5.5" fill="#f0b"/><rect x="277" y="378" width="20.5" height="5.5" fill="#f0a"/><rect x="297" y="378" width="20.5" height="5.5" fill="#f09"/><rect x="317" y="378" width="20.5" height="5.5" fill="#f08"/><rect x="337" y="378" width="5.5" height="5.5" fill="#f07"/><rect x="117" y="383" width="5.5" height="5.5" fill="#0af"/><rect x="122" y="383" width="35.5" height="5.5" fill="#09f"/><rect x="157" y="383" width="10.5" height="5.5" fill="#08f"/><rect x="167" y="383" width="5.5" height="5.5" fill="#48f"/><rect x="172" y="383" width="5.5" height="5.5" fill="#68f"/><rect x="177" y="383" width="5.5" height="5.5" fill="#78f"/><rect x="182" y="383" width="5.5" height="5.5" fill="#87f"/><rect x="187" y="383" width="5.5" height="5.5" fill="#97f"/><rect x="192" y="383" width="5.5" height="5.5" fill="#a7f"/><rect x="197" y="383" width="5.5" height="5.5" fill="#b7f"/><rect x="202" y="383" width="5.5" height="5.5" fill="#b6f"/><rect x="207" y="383" width="5.5" height="5.5" fill="#c6f"/><rect x="212" y="383" width="5.5" height="5.5" fill="#d5f"/><rect x="217" y="383" width="5.5" height="5.5" fill="#e5f"/><rect x="222" y="383" width="5.5" height="5.5" fill="#e4f"/><rect x="227" y="383" width="5.5" height="5.5" fill="#f4f"/><rect x="232" y="383" width="5.5" height="5.5" fill="#f3e"/><rect x="237" y="383" width="5.5" height="5.5" fill="#f0e"/><rect x="242" y="383" width="10.5" height="5.5" fill="#f0d"/><rect x="252" y="383" width="15.5" height="5.5" fill="#f0c"/><rect x="267" y="383" width="15.5" height="5.5" fill="#f0b"/><rect x="282" y="383" width="15.5" height="5.5" fill="#f0a"/><rect x="297" y="383" width="20.5" height="5.5" fill="#f09"/><rect x="317" y="383" width="10.5" height="5.5" fill="#f08"/><rect x="117" y="388" width="25.5" height="5.5" fill="#09f"/><rect x="142" y="388" width="25.5" height="5.5" fill="#08f"/><rect x="167" y="388" width="5.5" height="5.5" fill="#48f"/><rect x="172" y="388" width="5.5" height="5.5" fill="#67f"/><rect x="177" y="388" width="5.5" height="5.5" fill="#77f"/><rect x="182" y="388" width="5.5" height="5.5" fill="#87f"/><rect x="187" y="388" width="5.5" height="5.5" fill="#96f"/><rect x="192" y="388" width="5.5" height="5.5" fill="#a6f"/><rect x="197" y="388" width="5.5" height="5.5" fill="#b6f"/><rect x="202" y="388" width="10.5" height="5.5" fill="#c5f"/><rect x="212" y="388" width="5.5" height="5.5" fill="#d4f"/><rect x="217" y="388" width="5.5" height="5.5" fill="#e4f"/><rect x="222" y="388" width="5.5" height="5.5" fill="#e3f"/><rect x="227" y="388" width="5.5" height="5.5" fill="#f1f"/><rect x="232" y="388" width="10.5" height="5.5" fill="#f0e"/><rect x="242" y="388" width="15.5" height="5.5" fill="#f0d"/><rect x="257" y="388" width="10.5" height="5.5" fill="#f0c"/><rect x="267" y="388" width="15.5" height="5.5" fill="#f0b"/><rect x="282" y="388" width="20.5" height="5.5" fill="#f0a"/><rect x="302" y="388" width="15.5" height="5.5" fill="#f09"/><rect x="122" y="393" width="5.5" height="5.5" fill="#09f"/><rect x="127" y="393" width="30.5" height="5.5" fill="#08f"/><rect x="157" y="393" width="5.5" height="5.5" fill="#07f"/><rect x="162" y="393" width="5.5" height="5.5" fill="#27f"/><rect x="167" y="393" width="5.5" height="5.5" fill="#57f"/><rect x="172" y="393" width="5.5" height="5.5" fill="#67f"/><rect x="177" y="393" width="5.5" height="5.5" fill="#76f"/><rect x="182" y="393" width="5.5" height="5.5" fill="#86f"/><rect x="187" y="393" width="5.5" height="5.5" fill="#96f"/><rect x="192" y="393" width="5.5" height="5.5" fill="#a5f"/><rect x="197" y="393" width="5.5" height="5.5" fill="#b5f"/><rect x="202" y="393" width="10.5" height="5.5" fill="#c4f"/><rect x="212" y="393" width="5.5" height="5.5" fill="#d3f"/><rect x="217" y="393" width="5.5" height="5.5" fill="#e2f"/><rect x="222" y="393" width="5.5" height="5.5" fill="#e0f"/><rect x="227" y="393" width="10.5" height="5.5" fill="#f0f"/><rect x="237" y="393" width="5.5" height="5.5" fill="#f0e"/><rect x="242" y="393" width="15.5" height="5.5" fill="#f0d"/><rect x="257" y="393" width="10.5" height="5.5" fill="#f0c"/><rect x="267" y="393" width="15.5" height="5.5" fill="#f0b"/><rect x="282" y="393" width="20.5" height="5.5" fill="#f0a"/><rect x="302" y="393" width="5.5" height="5.5" fill="#f09"/><rect x="122" y="398" width="20.5" height="5.5" fill="#08f"/><rect x="142" y="398" width="20.5" height="5.5" fill="#07f"/><rect x="162" y="398" width="5.5" height="5.5" fill="#37f"/><rect x="167" y="398" width="5.5" height="5.5" fill="#56f"/><rect x="172" y="398" width="5.5" height="5.5" fill="#76f"/><rect x="177" y="398" width="5.5" height="5.5" fill="#86f"/><rect x="182" y="398" width="10.5" height="5.5" fill="#95f"/><rect x="192" y="398" width="5.5" height="5.5" fill="#a4f"/><rect x="197" y="398" width="5.5" height="5.5" fill="#b4f"/><rect x="202" y="398" width="5.5" height="5.5" fill="#c3f"/><rect x="207" y="398" width="5.5" height="5.5" fill="#c2f"/><rect x="212" y="398" width="5.5" height="5.5" fill="#d0f"/><rect x="217" y="398" width="10.5" height="5.5" fill="#e0f"/><rect x="227" y="398" width="10.5" height="5.5" fill="#f0f"/><rect x="237" y="398" width="10.5" height="5.5" fill="#f0e"/><rect x="247" y="398" width="10.5" height="5.5" fill="#f0d"/><rect x="257" y="398" width="15.5" height="5.5" fill="#f0c"/><rect x="272" y="398" width="15.5" height="5.5" fill="#f0b"/><rect x="287" y="398" width="10.5" height="5.5" fill="#f0a"/><rect x="127" y="403" width="5.5" height="5.5" fill="#08f"/><rect x="132" y="403" width="25.5" height="5.5" fill="#07f"/><rect x="157" y="403" width="5.5" height="5.5" fill="#06f"/><rect x="162" y="403" width="5.5" height="5.5" fill="#46f"/><rect x="167" y="403" width="5.5" height="5.5" fill="#56f"/><rect x="172" y="403" width="5.5" height="5.5" fill="#75f"/><rect x="177" y="403" width="5.5" height="5.5" fill="#85f"/><rect x="182" y="403" width="5.5" height="5.5" fill="#94f"/><rect x="187" y="403" width="5.5" height="5.5" fill="#a4f"/><rect x="192" y="403" width="5.5" height="5.5" fill="#a3f"/><rect x="197" y="403" width="5.5" height="5.5" fill="#b2f"/><rect x="202" y="403" width="10.5" height="5.5" fill="#c0f"/><rect x="212" y="403" width="5.5" height="5.5" fill="#d0f"/><rect x="217" y="403" width="10.5" height="5.5" fill="#e0f"/><rect x="227" y="403" width="10.5" height="5.5" fill="#f0f"/><rect x="237" y="403" width="10.5" height="5.5" fill="#f0e"/><rect x="247" y="403" width="10.5" height="5.5" fill="#f0d"/><rect x="257" y="403" width="15.5" height="5.5" fill="#f0c"/><rect x="272" y="403" width="15.5" height="5.5" fill="#f0b"/><rect x="127" y="408" width="15.5" height="5.5" fill="#07f"/><rect x="142" y="408" width="20.5" height="5.5" fill="#06f"/><rect x="162" y="408" width="5.5" height="5.5" fill="#45f"/><rect x="167" y="408" width="5.5" height="5.5" fill="#65f"/><rect x="172" y="408" width="5.5" height="5.5" fill="#74f"/><rect x="177" y="408" width="5.5" height="5.5" fill="#84f"/><rect x="182" y="408" width="5.5" height="5.5" fill="#93f"/><rect x="187" y="408" width="5.5" height="5.5" fill="#a2f"/><rect x="192" y="408" width="5.5" height="5.5" fill="#a0f"/><rect x="197" y="408" width="5.5" height="5.5" fill="#b0f"/><rect x="202" y="408" width="10.5" height="5.5" fill="#c0f"/><rect x="212" y="408" width="5.5" height="5.5" fill="#d0f"/><rect x="217" y="408" width="10.5" height="5.5" fill="#e0f"/><rect x="227" y="408" width="10.5" height="5.5" fill="#f0f"/><rect x="237" y="408" width="10.5" height="5.5" fill="#f0e"/><rect x="247" y="408" width="10.5" height="5.5" fill="#f0d"/><rect x="257" y="408" width="15.5" height="5.5" fill="#f0c"/><rect x="272" y="408" width="5.5" height="5.5" fill="#f0b"/><rect x="127" y="413" width="5.5" height="5.5" fill="#07f"/><rect x="132" y="413" width="20.5" height="5.5" fill="#06f"/><rect x="152" y="413" width="5.5" height="5.5" fill="#05f"/><rect x="157" y="413" width="5.5" height="5.5" fill="#25f"/><rect x="162" y="413" width="5.5" height="5.5" fill="#54f"/><rect x="167" y="413" width="5.5" height="5.5" fill="#64f"/><rect x="172" y="413" width="5.5" height="5.5" fill="#73f"/><rect x="177" y="413" width="5.5" height="5.5" fill="#83f"/><rect x="182" y="413" width="5.5" height="5.5" fill="#91f"/><rect x="187" y="413" width="5.5" height="5.5" fill="#a0f"/><rect x="192" y="413" width="10.5" height="5.5" fill="#b0f"/><rect x="202" y="413" width="10.5" height="5.5" fill="#c0f"/><rect x="212" y="413" width="5.5" height="5.5" fill="#d0f"/><rect x="217" y="413" width="10.5" height="5.5" fill="#e0f"/><rect x="227" y="413" width="10.5" height="5.5" fill="#f0f"/><rect x="237" y="413" width="10.5" height="5.5" fill="#f0e"/><rect x="247" y="413" width="10.5" height="5.5" fill="#f0d"/><rect x="257" y="413" width="10.5" height="5.5" fill="#f0c"/><rect x="132" y="418" width="10.5" height="5.5" fill="#06f"/><rect x="142" y="418" width="10.5" height="5.5" fill="#05f"/><rect x="152" y="418" width="5.5" height="5.5" fill="#04f"/><rect x="157" y="418" width="5.5" height="5.5" fill="#34f"/><rect x="162" y="418" width="5.5" height="5.5" fill="#53f"/><rect x="167" y="418" width="5.5" height="5.5" fill="#63f"/><rect x="172" y="418" width="5.5" height="5.5" fill="#71f"/><rect x="177" y="418" width="5.5" height="5.5" fill="#80f"/><rect x="182" y="418" width="5.5" height="5.5" fill="#90f"/><rect x="187" y="418" width="5.5" height="5.5" fill="#a0f"/><rect x="192" y="418" width="10.5" height="5.5" fill="#b0f"/><rect x="202" y="418" width="10.5" height="5.5" fill="#c0f"/><rect x="212" y="418" width="5.5" height="5.5" fill="#d0f"/><rect x="217" y="418" width="10.5" height="5.5" fill="#e0f"/><rect x="227" y="418" width="10.5" height="5.5" fill="#f0f"/><rect x="237" y="418" width="10.5" height="5.5" fill="#f0e"/><rect x="247" y="418" width="5.5" height="5.5" fill="#f0d"/><rect x="132" y="423" width="10.5" height="5.5" fill="#05f"/><rect x="142" y="423" width="10.5" height="5.5" fill="#04f"/><rect x="152" y="423" width="5.5" height="5.5" fill="#03f"/><rect x="157" y="423" width="5.5" height="5.5" fill="#43f"/><rect x="162" y="423" width="5.5" height="5.5" fill="#52f"/><rect x="167" y="423" width="5.5" height="5.5" fill="#70f"/><rect x="172" y="423" width="5.5" height="5.5" fill="#80f"/><rect x="177" y="423" width="10.5" height="5.5" fill="#90f"/><rect x="187" y="423" width="5.5" height="5.5" fill="#a0f"/><rect x="192" y="423" width="10.5" height="5.5" fill="#b0f"/><rect x="202" y="423" width="5.5" height="5.5" fill="#c0f"/><rect x="207" y="423" width="10.5" height="5.5" fill="#d0f"/><rect x="217" y="423" width="10.5" height="5.5" fill="#e0f"/><rect x="227" y="423" width="10.5" height="5.5" fill="#f0f"/><rect x="237" y="423" width="5.5" height="5.5" fill="#f0e"/><rect x="137" y="428" width="10.5" height="5.5" fill="#04f"/><rect x="147" y="428" width="5.5" height="5.5" fill="#03f"/><rect x="152" y="428" width="5.5" height="5.5" fill="#12f"/><rect x="157" y="428" width="5.5" height="5.5" fill="#40f"/><rect x="162" y="428" width="5.5" height="5.5" fill="#60f"/><rect x="167" y="428" width="5.5" height="5.5" fill="#70f"/><rect x="172" y="428" width="5.5" height="5.5" fill="#80f"/><rect x="177" y="428" width="10.5" height="5.5" fill="#90f"/><rect x="187" y="428" width="5.5" height="5.5" fill="#a0f"/><rect x="192" y="428" width="10.5" height="5.5" fill="#b0f"/><rect x="202" y="428" width="5.5" height="5.5" fill="#c0f"/><rect x="207" y="428" width="10.5" height="5.5" fill="#d0f"/><rect x="217" y="428" width="10.5" height="5.5" fill="#e0f"/><rect x="227" y="428" width="5.5" height="5.5" fill="#f0f"/><rect x="137" y="433" width="5.5" height="5.5" fill="#03f"/><rect x="142" y="433" width="5.5" height="5.5" fill="#02f"/><rect x="147" y="433" width="5.5" height="5.5" fill="#00f"/><rect x="152" y="433" width="5.5" height="5.5" fill="#30f"/><rect x="157" y="433" width="5.5" height="5.5" fill="#50f"/><rect x="162" y="433" width="5.5" height="5.5" fill="#60f"/><rect x="167" y="433" width="5.5" height="5.5" fill="#70f"/><rect x="172" y="433" width="5.5" height="5.5" fill="#80f"/><rect x="177" y="433" width="5.5" height="5.5" fill="#90f"/><rect x="182" y="433" width="10.5" height="5.5" fill="#a0f"/><rect x="192" y="433" width="10.5" height="5.5" fill="#b0f"/><rect x="202" y="433" width="5.5" height="5.5" fill="#c0f"/><rect x="207" y="433" width="10.5" height="5.5" fill="#d0f"/><rect x="217" y="433" width="5.5" height="5.5" fill="#e0f"/><rect x="142" y="438" width="10.5" height="5.5" fill="#00f"/><rect x="152" y="438" width="5.5" height="5.5" fill="#30f"/><rect x="157" y="438" width="5.5" height="5.5" fill="#50f"/><rect x="162" y="438" width="5.5" height="5.5" fill="#60f"/><rect x="167" y="438" width="5.5" height="5.5" fill="#70f"/><rect x="172" y="438" width="5.5" height="5.5" fill="#80f"/><rect x="177" y="438" width="5.5" height="5.5" fill="#90f"/><rect x="182" y="438" width="10.5" height="5.5" fill="#a0f"/><rect x="192" y="438" width="5.5" height="5.5" fill="#b0f"/><rect x="197" y="438" width="10.5" height="5.5" fill="#c0f"/><rect x="207" y="438" width="5.5" height="5.5" fill="#d0f"/><rect x="142" y="443" width="10.5" height="5.5" fill="#00f"/><rect x="152" y="443" width="5.5" height="5.5" fill="#40f"/><rect x="157" y="443" width="5.5" height="5.5" fill="#50f"/><rect x="162" y="443" width="5.5" height="5.5" fill="#70f"/><rect x="167" y="443" width="10.5" height="5.5" fill="#80f"/><rect x="177" y="443" width="5.5" height="5.5" fill="#90f"/><rect x="182" y="443" width="10.5" height="5.5" fill="#a0f"/><rect x="192" y="443" width="5.5" height="5.5" fill="#b0f"/><rect x="197" y="443" width="5.5" height="5.5" fill="#c0f"/><rect x="147" y="448" width="5.5" height="5.5" fill="#20f"/><rect x="152" y="448" width="5.5" height="5.5" fill="#40f"/><rect x="157" y="448" width="5.5" height="5.5" fill="#60f"/><rect x="162" y="448" width="5.5" height="5.5" fill="#70f"/><rect x="167" y="448" width="10.5" height="5.5" fill="#80f"/><rect x="177" y="448" width="5.5" height="5.5" fill="#90f"/><rect x="182" y="448" width="10.5" height="5.5" fill="#a0f"/><rect x="152" y="453" width="5.5" height="5.5" fill="#50f"/><rect x="157" y="453" width="5.5" height="5.5" fill="#60f"/><rect x="162" y="453" width="5.5" height="5.5" fill="#70f"/><rect x="167" y="453" width="5.5" height="5.5" fill="#80f"/><rect x="172" y="453" width="5.5" height="5.5" fill="#90f"/><rect x="162" y="458" width="5.5" height="5.5" fill="#70f"/></g></svg>
<canvas id="cv" width="550" height="537"></canvas>
<svg width="550" height="537" viewBox="0 0 550 537">
<path d="M164.71,457.91 L164.68,457.91 L164.64,457.92 L164.60,457.92 L164.57,457.93 L164.53,457.93 L164.50,457.93 L164.47,457.94 L164.44,457.94 L164.41,457.94 L164.38,457.94 L164.36,457.94 L164.33,457.94 L164.31,457.94 L164.28,457.95 L164.24,457.96 L164.19,457.99 L164.15,458.01 L164.11,458.04 L164.08,458.05 L164.06,458.06 L164.05,458.06 L164.04,458.06 L164.03,458.05 L164.03,458.05 L164.01,458.05 L164.00,458.06 L163.98,458.07 L163.96,458.08 L163.94,458.08 L163.92,458.08 L163.90,458.08 L163.88,458.07 L163.85,458.07 L163.83,458.07 L163.81,458.08 L163.79,458.09 L163.77,458.11 L163.75,458.12 L163.73,458.13 L163.71,458.14 L163.69,458.14 L163.66,458.14 L163.64,458.15 L163.60,458.15 L163.57,458.15 L163.53,458.14 L163.49,458.14 L163.45,458.13 L163.41,458.13 L163.37,458.13 L163.33,458.14 L163.28,458.14 L163.24,458.13 L163.19,458.13 L163.15,458.12 L163.10,458.11 L163.05,458.09 L162.99,458.07 L162.92,458.04 L162.84,458.00 L162.75,457.95 L162.65,457.89 L162.55,457.83 L162.45,457.76 L162.34,457.69 L162.23,457.60 L162.11,457.51 L161.98,457.41 L161.84,457.30 L161.70,457.19 L161.54,457.06 L161.37,456.92 L161.19,456.77 L161.00,456.61 L160.80,456.44 L160.60,456.26 L160.39,456.06 L160.17,455.85 L159.93,455.63 L159.68,455.40 L159.42,455.16 L159.14,454.91 L158.84,454.65 L158.53,454.37 L158.19,454.08 L157.83,453.76 L157.45,453.43 L157.05,453.07 L156.62,452.70 L156.18,452.31 L155.71,451.90 L155.22,451.48 L154.71,451.03 L154.18,450.55 L153.62,450.04 L153.04,449.49 L152.43,448.91 L151.79,448.28 L151.14,447.61 L150.45,446.90 L149.75,446.14 L149.03,445.31 L148.27,444.42 L147.48,443.42 L146.64,442.31 L145.74,441.04 L144.77,439.60 L143.74,437.99 L142.65,436.19 L141.50,434.22 L140.31,432.06 L139.06,429.69 L137.75,427.10 L136.38,424.25 L134.95,421.12 L133.44,417.67 L131.87,413.89 L130.23,409.76 L128.50,405.28 L126.69,400.42 L124.79,395.18 L122.81,389.52 L120.75,383.41 L118.63,376.81 L116.50,369.73 L114.37,362.18 L112.26,354.15 L110.17,345.65 L108.07,336.67 L105.98,327.21 L103.89,317.28 L101.83,306.94 L99.83,296.24 L97.91,285.27 L96.09,274.09 L94.39,262.78 L92.84,251.41 L91.45,240.02 L90.23,228.65 L89.19,217.36 L88.34,206.24 L87.70,195.39 L87.30,184.87 L87.14,174.69 L87.24,164.84 L87.60,155.33 L88.21,146.21 L89.10,137.54 L90.28,129.38 L91.76,121.82 L93.52,114.86 L95.54,108.53 L97.81,102.90 L100.31,98.02 L103.03,93.92 L105.95,90.59 L109.04,87.99 L112.27,86.06 L115.60,84.78 L119.03,84.09 L122.52,83.96 L126.08,84.32 L129.69,85.09 L133.34,86.17 L137.01,87.52 L140.70,89.07 L144.40,90.80 L148.08,92.67 L151.72,94.65 L155.31,96.69 L158.84,98.78 L162.31,100.91 L165.75,103.09 L169.15,105.33 L172.53,107.63 L175.88,109.99 L179.21,112.40 L182.52,114.86 L185.82,117.38 L189.10,119.95 L192.38,122.57 L195.65,125.23 L198.92,127.94 L202.17,130.70 L205.42,133.49 L208.66,136.31 L211.89,139.17 L215.13,142.06 L218.36,144.98 L221.58,147.93 L224.81,150.91 L228.04,153.91 L231.27,156.93 L234.49,159.97 L237.72,163.03 L240.94,166.10 L244.17,169.20 L247.40,172.30 L250.62,175.42 L253.84,178.55 L257.07,181.68 L260.29,184.82 L263.50,187.97 L266.71,191.12 L269.92,194.27 L273.13,197.42 L276.32,200.58 L279.51,203.73 L282.69,206.87 L285.86,210.01 L289.02,213.15 L292.17,216.27 L295.30,219.39 L298.42,222.49 L301.52,225.58 L304.61,228.66 L307.67,231.72 L310.72,234.75 L313.74,237.76 L316.73,240.75 L319.71,243.71 L322.65,246.64 L325.57,249.55 L328.45,252.42 L331.31,255.26 L334.13,258.06 L336.91,260.82 L339.65,263.55 L342.35,266.24 L345.01,268.89 L347.63,271.50 L350.20,274.06 L352.71,276.58 L355.16,279.03 L357.54,281.40 L359.85,283.70 L362.08,285.92 L364.24,288.07 L366.35,290.18 L368.42,292.23 L370.44,294.25 L372.42,296.21 L374.34,298.13 L376.20,299.97 L377.98,301.75 L379.70,303.45 L381.34,305.08 L382.92,306.64 L384.43,308.15 L385.89,309.59 L387.30,310.99 L388.64,312.33 L389.93,313.62 L391.17,314.85 L392.35,316.03 L393.48,317.16 L394.56,318.23 L395.59,319.26 L396.57,320.24 L397.51,321.18 L398.40,322.07 L399.26,322.92 L400.08,323.73 L400.86,324.51 L401.61,325.26 L402.33,325.97 L403.01,326.65 L403.67,327.30 L404.30,327.93 L404.91,328.54 L405.51,329.13 L406.08,329.70 L406.63,330.25 L407.16,330.78 L407.67,331.29 L408.16,331.78 L408.63,332.25 L409.08,332.70 L409.51,333.13 L409.93,333.54 L410.32,333.94 L410.70,334.32 L411.07,334.68 L411.41,335.02 L411.73,335.34 L412.03,335.64 L412.32,335.92 L412.58,336.18 L412.83,336.43 L413.07,336.67 L413.29,336.89 L413.51,337.11 L413.72,337.32 L413.91,337.51 L414.10,337.70 L414.27,337.87 L414.43,338.03 L414.59,338.19 L414.73,338.33 L414.86,338.46 L414.98,338.58 L415.09,338.69 L415.19,338.79 L415.28,338.88 L415.37,338.97 L415.45,339.05 L415.54,339.14 L415.62,339.22 L415.70,339.30 L415.78,339.38 L415.85,339.45 L415.91,339.51 L415.98,339.58 L416.04,339.64 L416.10,339.70 L416.17,339.77 L416.23,339.83 L416.29,339.89 L416.36,339.96 L416.42,340.02 L416.48,340.08 L416.54,340.14 L416.60,340.20 L416.65,340.25 L416.70,340.30 L416.75,340.35 L416.78,340.38 L416.81,340.41 L416.83,340.43 L416.86,340.46 L416.88,340.48 L416.90,340.50 L416.92,340.52 L416.93,340.53 L416.95,340.55 L416.96,340.56 L416.97,340.57 L416.98,340.58 L416.99,340.59 L416.99,340.59 Z" fill="none" stroke="#000" stroke-width="0.95" stroke-linejoin="round"/>
<line x1="163.92" y1="458.08" x2="161.22" y2="471.31" stroke="#000" stroke-width="1.3" stroke-linecap="square"/>
<circle cx="163.92" cy="458.08" r="2.75" fill="#000"/>
<text x="159.22" y="478.02" text-anchor="end" class="wl">390</text>
<line x1="150.45" y1="446.90" x2="140.52" y2="456.04" stroke="#000" stroke-width="1.3" stroke-linecap="square"/>
<circle cx="150.45" cy="446.90" r="2.75" fill="#000"/>
<text x="136.61" y="461.38" text-anchor="end" class="wl">460</text>
<line x1="141.50" y1="434.22" x2="129.69" y2="440.76" stroke="#000" stroke-width="1.3" stroke-linecap="square"/>
<circle cx="141.50" cy="434.22" r="2.75" fill="#000"/>
<text x="125.16" y="445.24" text-anchor="end" class="wl">470</text>
<line x1="126.69" y1="400.42" x2="114.00" y2="405.03" stroke="#000" stroke-width="1.3" stroke-linecap="square"/>
<circle cx="126.69" cy="400.42" r="2.75" fill="#000"/>
<text x="109.17" y="408.86" text-anchor="end" class="wl">480</text>
<line x1="105.98" y1="327.21" x2="92.77" y2="329.99" stroke="#000" stroke-width="1.3" stroke-linecap="square"/>
<circle cx="105.98" cy="327.21" r="2.75" fill="#000"/>
<text x="87.77" y="333.22" text-anchor="end" class="wl">490</text>
<line x1="89.19" y1="217.36" x2="75.72" y2="218.39" stroke="#000" stroke-width="1.3" stroke-linecap="square"/>
<circle cx="89.19" cy="217.36" r="2.75" fill="#000"/>
<text x="70.64" y="221.03" text-anchor="end" class="wl">500</text>
<line x1="91.76" y1="121.82" x2="78.67" y2="118.51" stroke="#000" stroke-width="1.3" stroke-linecap="square"/>
<circle cx="91.76" cy="121.82" r="2.75" fill="#000"/>
<text x="73.71" y="119.71" text-anchor="end" class="wl">510</text>
<line x1="119.03" y1="84.09" x2="118.53" y2="70.60" stroke="#000" stroke-width="1.3" stroke-linecap="square"/>
<circle cx="119.03" cy="84.09" r="2.75" fill="#000"/>
<text x="117.76" y="68.40" text-anchor="end" class="wl">520</text>
<line x1="189.10" y1="119.95" x2="197.53" y2="109.40" stroke="#000" stroke-width="1.3" stroke-linecap="square"/>
<circle cx="189.10" cy="119.95" r="2.75" fill="#000"/>
<text x="200.34" y="108.18" text-anchor="start" class="wl">540</text>
<line x1="253.84" y1="178.55" x2="263.26" y2="168.87" stroke="#000" stroke-width="1.3" stroke-linecap="square"/>
<circle cx="253.84" cy="178.55" r="2.75" fill="#000"/>
<text x="266.40" y="167.95" text-anchor="start" class="wl">560</text>
<line x1="316.73" y1="240.75" x2="326.26" y2="231.19" stroke="#000" stroke-width="1.3" stroke-linecap="square"/>
<circle cx="316.73" cy="240.75" r="2.75" fill="#000"/>
<text x="329.44" y="230.30" text-anchor="start" class="wl">580</text>
<line x1="368.42" y1="292.23" x2="377.94" y2="282.67" stroke="#000" stroke-width="1.3" stroke-linecap="square"/>
<circle cx="368.42" cy="292.23" r="2.75" fill="#000"/>
<text x="381.12" y="281.78" text-anchor="start" class="wl">600</text>
<line x1="397.51" y1="321.18" x2="407.03" y2="311.61" stroke="#000" stroke-width="1.3" stroke-linecap="square"/>
<circle cx="397.51" cy="321.18" r="2.75" fill="#000"/>
<text x="410.21" y="310.72" text-anchor="start" class="wl">620</text>
<line x1="416.99" y1="340.59" x2="426.54" y2="331.05" stroke="#000" stroke-width="1.3" stroke-linecap="square"/>
<circle cx="416.99" cy="340.59" r="2.75" fill="#000"/>
<text x="429.72" y="330.16" text-anchor="start" class="wl">700</text>
<circle cx="236.0" cy="309.9" r="2.45" fill="#fff"/>
<circle cx="256.5" cy="279.7" r="2.45" fill="#f00"/>
<circle cx="249.6" cy="287.2" r="2.45" fill="#f00"/>
<circle cx="241.2" cy="292.4" r="2.45" fill="#f00"/>
<circle cx="237.7" cy="294.6" r="2.45" fill="#f00"/>
<circle cx="235.4" cy="300.2" r="2.45" fill="#f00"/>
<circle cx="227.9" cy="308.7" r="2.45" fill="#f00"/>
<circle cx="224.0" cy="314.0" r="2.45" fill="#f00"/>
<circle cx="210.8" cy="322.5" r="2.45" fill="#f00"/>
<circle cx="205.6" cy="334.6" r="2.45" fill="#f00"/>
<circle cx="197.6" cy="344.3" r="2.45" fill="#f00"/>
<path d="M235.40,265.78 L237.70,269.98 L233.10,269.98 Z" fill="#008000"/>
<path d="M212.50,311.58 L214.80,315.78 L210.20,315.78 Z" fill="#008000"/>
<path d="M197.90,336.78 L200.20,340.98 L195.60,340.98 Z" fill="#008000"/>
<path d="M193.70,347.38 L196.00,351.58 L191.40,351.58 Z" fill="#008000"/>
<polygon points="234.30,280.30 235.21,282.25 237.34,282.51 235.77,283.98 236.18,286.09 234.30,285.05 232.42,286.09 232.83,283.98 231.26,282.51 233.39,282.25" fill="#00bfbf"/>
<polygon points="234.60,287.50 235.51,289.45 237.64,289.71 236.07,291.18 236.48,293.29 234.60,292.25 232.72,293.29 233.13,291.18 231.56,289.71 233.69,289.45" fill="#0000ff"/>
<rect x="52.45" y="9.10" width="484.55" height="485.80" fill="none" stroke="#6c6c6c" stroke-width="1.3"/>
<line x1="85.50" y1="494.90" x2="85.50" y2="497.90" stroke="#6c6c6c" stroke-width="1"/>
<text x="85.50" y="511.0" text-anchor="middle" class="tk">0.0</text>
<line x1="49.45" y1="460.30" x2="52.45" y2="460.30" stroke="#6c6c6c" stroke-width="1"/>
<text x="46.8" y="465.40" text-anchor="end" class="tk">0.0</text>
<line x1="130.62" y1="494.90" x2="130.62" y2="497.90" stroke="#6c6c6c" stroke-width="1"/>
<text x="130.62" y="511.0" text-anchor="middle" class="tk">0.1</text>
<line x1="49.45" y1="415.18" x2="52.45" y2="415.18" stroke="#6c6c6c" stroke-width="1"/>
<text x="46.8" y="420.28" text-anchor="end" class="tk">0.1</text>
<line x1="175.74" y1="494.90" x2="175.74" y2="497.90" stroke="#6c6c6c" stroke-width="1"/>
<text x="175.74" y="511.0" text-anchor="middle" class="tk">0.2</text>
<line x1="49.45" y1="370.06" x2="52.45" y2="370.06" stroke="#6c6c6c" stroke-width="1"/>
<text x="46.8" y="375.16" text-anchor="end" class="tk">0.2</text>
<line x1="220.86" y1="494.90" x2="220.86" y2="497.90" stroke="#6c6c6c" stroke-width="1"/>
<text x="220.86" y="511.0" text-anchor="middle" class="tk">0.3</text>
<line x1="49.45" y1="324.94" x2="52.45" y2="324.94" stroke="#6c6c6c" stroke-width="1"/>
<text x="46.8" y="330.04" text-anchor="end" class="tk">0.3</text>
<line x1="265.98" y1="494.90" x2="265.98" y2="497.90" stroke="#6c6c6c" stroke-width="1"/>
<text x="265.98" y="511.0" text-anchor="middle" class="tk">0.4</text>
<line x1="49.45" y1="279.82" x2="52.45" y2="279.82" stroke="#6c6c6c" stroke-width="1"/>
<text x="46.8" y="284.92" text-anchor="end" class="tk">0.4</text>
<line x1="311.10" y1="494.90" x2="311.10" y2="497.90" stroke="#6c6c6c" stroke-width="1"/>
<text x="311.10" y="511.0" text-anchor="middle" class="tk">0.5</text>
<line x1="49.45" y1="234.70" x2="52.45" y2="234.70" stroke="#6c6c6c" stroke-width="1"/>
<text x="46.8" y="239.80" text-anchor="end" class="tk">0.5</text>
<line x1="356.22" y1="494.90" x2="356.22" y2="497.90" stroke="#6c6c6c" stroke-width="1"/>
<text x="356.22" y="511.0" text-anchor="middle" class="tk">0.6</text>
<line x1="49.45" y1="189.58" x2="52.45" y2="189.58" stroke="#6c6c6c" stroke-width="1"/>
<text x="46.8" y="194.68" text-anchor="end" class="tk">0.6</text>
<line x1="401.34" y1="494.90" x2="401.34" y2="497.90" stroke="#6c6c6c" stroke-width="1"/>
<text x="401.34" y="511.0" text-anchor="middle" class="tk">0.7</text>
<line x1="49.45" y1="144.46" x2="52.45" y2="144.46" stroke="#6c6c6c" stroke-width="1"/>
<text x="46.8" y="149.56" text-anchor="end" class="tk">0.7</text>
<line x1="446.46" y1="494.90" x2="446.46" y2="497.90" stroke="#6c6c6c" stroke-width="1"/>
<text x="446.46" y="511.0" text-anchor="middle" class="tk">0.8</text>
<line x1="49.45" y1="99.34" x2="52.45" y2="99.34" stroke="#6c6c6c" stroke-width="1"/>
<text x="46.8" y="104.44" text-anchor="end" class="tk">0.8</text>
<line x1="491.58" y1="494.90" x2="491.58" y2="497.90" stroke="#6c6c6c" stroke-width="1"/>
<text x="491.58" y="511.0" text-anchor="middle" class="tk">0.9</text>
<line x1="49.45" y1="54.22" x2="52.45" y2="54.22" stroke="#6c6c6c" stroke-width="1"/>
<text x="46.8" y="59.32" text-anchor="end" class="tk">0.9</text>
<line x1="536.70" y1="494.90" x2="536.70" y2="497.90" stroke="#6c6c6c" stroke-width="1"/>
<text x="536.70" y="511.0" text-anchor="middle" class="tk">1.0</text>
<line x1="49.45" y1="9.10" x2="52.45" y2="9.10" stroke="#6c6c6c" stroke-width="1"/>
<text x="46.8" y="14.20" text-anchor="end" class="tk">1.0</text>
<text x="294.4" y="529.7" text-anchor="middle" class="al">Chromaticity coordinate x</text>
<text transform="translate(16.7,251.9) rotate(-90)" x="0" y="0" text-anchor="middle" class="al">Chromaticity coordinate y</text>
<rect x="328.00" y="14.80" width="205.40" height="194.70" fill="none" stroke="#808080" stroke-width="1.6"/>
<line x1="344.90" y1="209.50" x2="344.90" y2="206.20" stroke="#333" stroke-width="1.0"/>
<text x="344.90" y="220.2" text-anchor="middle" class="it">0.0</text>
<line x1="362.03" y1="209.50" x2="362.03" y2="207.90" stroke="#333" stroke-width="1.0"/>
<line x1="379.16" y1="209.50" x2="379.16" y2="206.20" stroke="#333" stroke-width="1.0"/>
<text x="379.16" y="220.2" text-anchor="middle" class="it">0.2</text>
<line x1="396.29" y1="209.50" x2="396.29" y2="207.90" stroke="#333" stroke-width="1.0"/>
<line x1="413.42" y1="209.50" x2="413.42" y2="206.20" stroke="#333" stroke-width="1.0"/>
<text x="413.42" y="220.2" text-anchor="middle" class="it">0.4</text>
<line x1="430.55" y1="209.50" x2="430.55" y2="207.90" stroke="#333" stroke-width="1.0"/>
<line x1="447.68" y1="209.50" x2="447.68" y2="206.20" stroke="#333" stroke-width="1.0"/>
<text x="447.68" y="220.2" text-anchor="middle" class="it">0.6</text>
<line x1="464.81" y1="209.50" x2="464.81" y2="207.90" stroke="#333" stroke-width="1.0"/>
<line x1="481.94" y1="209.50" x2="481.94" y2="206.20" stroke="#333" stroke-width="1.0"/>
<text x="481.94" y="220.2" text-anchor="middle" class="it">0.8</text>
<line x1="499.07" y1="209.50" x2="499.07" y2="207.90" stroke="#333" stroke-width="1.0"/>
<line x1="516.20" y1="209.50" x2="516.20" y2="206.20" stroke="#333" stroke-width="1.0"/>
<text x="516.20" y="220.2" text-anchor="middle" class="it">1.0</text>
<line x1="328.00" y1="189.30" x2="331.00" y2="189.30" stroke="#333" stroke-width="1.0"/>
<text x="324.0" y="192.30" text-anchor="end" class="it">0.25</text>
<line x1="328.00" y1="169.90" x2="329.60" y2="169.90" stroke="#333" stroke-width="1.0"/>
<line x1="328.00" y1="150.50" x2="331.00" y2="150.50" stroke="#333" stroke-width="1.0"/>
<text x="324.0" y="153.50" text-anchor="end" class="it">0.30</text>
<line x1="328.00" y1="131.10" x2="329.60" y2="131.10" stroke="#333" stroke-width="1.0"/>
<line x1="328.00" y1="111.70" x2="331.00" y2="111.70" stroke="#333" stroke-width="1.0"/>
<text x="324.0" y="114.70" text-anchor="end" class="it">0.35</text>
<line x1="328.00" y1="92.30" x2="329.60" y2="92.30" stroke="#333" stroke-width="1.0"/>
<line x1="328.00" y1="72.90" x2="331.00" y2="72.90" stroke="#333" stroke-width="1.0"/>
<text x="324.0" y="75.90" text-anchor="end" class="it">0.40</text>
<line x1="328.00" y1="53.50" x2="329.60" y2="53.50" stroke="#333" stroke-width="1.0"/>
<line x1="328.00" y1="34.10" x2="331.00" y2="34.10" stroke="#333" stroke-width="1.0"/>
<text x="324.0" y="37.10" text-anchor="end" class="it">0.45</text>
<text x="431.0" y="231.9" text-anchor="middle" class="il">1/Dilution times of algae</text>
<text transform="translate(303.2,111.4) rotate(-90)" x="0" y="0" text-anchor="middle" class="il2">Chromaticity coordinate x or y</text>
<path d="M344.20,192.44 L345.65,186.17 L347.09,180.15 L348.54,174.37 L349.98,168.82 L351.43,163.49 L352.87,158.37 L354.32,153.45 L355.76,148.73 L357.21,144.21 L358.65,139.86 L360.10,135.70 L361.54,131.71 L362.99,127.90 L364.44,124.25 L365.88,120.76 L367.33,117.44 L368.77,114.27 L370.22,111.25 L371.66,108.39 L373.11,105.67 L374.55,103.09 L376.00,100.64 L377.44,98.32 L378.89,96.11 L380.33,94.01 L381.78,92.03 L383.23,90.14 L384.67,88.35 L386.12,86.65 L387.56,85.03 L389.01,83.50 L390.45,82.04 L391.90,80.66 L393.34,79.35 L394.79,78.10 L396.23,76.91 L397.68,75.79 L399.12,74.71 L400.57,73.69 L402.02,72.71 L403.46,71.79 L404.91,70.90 L406.35,70.06 L407.80,69.26 L409.24,68.49 L410.69,67.76 L412.13,67.06 L413.58,66.40 L415.02,65.77 L416.47,65.17 L417.91,64.59 L419.36,64.05 L420.81,63.52 L422.25,63.03 L423.70,62.55 L425.14,62.10 L426.59,61.67 L428.03,61.25 L429.48,60.86 L430.92,60.49 L432.37,60.13 L433.81,59.78 L435.26,59.46 L436.70,59.15 L438.15,58.85 L439.59,58.56 L441.04,58.29 L442.49,58.03 L443.93,57.79 L445.38,57.55 L446.82,57.32 L448.27,57.11 L449.71,56.90 L451.16,56.70 L452.60,56.51 L454.05,56.33 L455.49,56.16 L456.94,55.99 L458.38,55.83 L459.83,55.68 L461.28,55.53 L462.72,55.39 L464.17,55.26 L465.61,55.13 L467.06,55.01 L468.50,54.89 L469.95,54.78 L471.39,54.67 L472.84,54.57 L474.28,54.47 L475.73,54.37 L477.17,54.28 L478.62,54.20 L480.07,54.11 L481.51,54.03 L482.96,53.95 L484.40,53.88 L485.85,53.81 L487.29,53.74 L488.74,53.68 L490.18,53.61 L491.63,53.55 L493.07,53.50 L494.52,53.44 L495.96,53.39 L497.41,53.34 L498.86,53.29 L500.30,53.25 L501.75,53.20 L503.19,53.16 L504.64,53.12 L506.08,53.09 L507.53,53.05 L508.97,53.02 L510.42,52.99 L511.86,52.96 L513.31,52.93 L514.75,52.90 L516.20,52.88" fill="none" stroke="#4ea24e" stroke-width="1.1" stroke-dasharray="2.2,1.0,0.9,1.0"/>
<path d="M344.90,196.34 L346.34,193.43 L347.78,190.59 L349.22,187.79 L350.66,185.06 L352.10,182.39 L353.54,179.78 L354.98,177.23 L356.42,174.75 L357.86,172.35 L359.29,170.01 L360.73,167.76 L362.17,165.58 L363.61,163.50 L365.05,161.50 L366.49,159.60 L367.93,157.80 L369.37,156.10 L370.81,154.49 L372.25,152.98 L373.69,151.56 L375.13,150.22 L376.57,148.95 L378.01,147.77 L379.45,146.65 L380.89,145.59 L382.33,144.60 L383.77,143.66 L385.21,142.78 L386.65,141.95 L388.08,141.17 L389.52,140.43 L390.96,139.72 L392.40,139.06 L393.84,138.43 L395.28,137.83 L396.72,137.26 L398.16,136.71 L399.60,136.19 L401.04,135.69 L402.48,135.22 L403.92,134.77 L405.36,134.34 L406.80,133.92 L408.24,133.53 L409.68,133.15 L411.12,132.80 L412.56,132.45 L414.00,132.12 L415.44,131.81 L416.87,131.51 L418.31,131.22 L419.75,130.94 L421.19,130.68 L422.63,130.43 L424.07,130.19 L425.51,129.95 L426.95,129.73 L428.39,129.52 L429.83,129.31 L431.27,129.12 L432.71,128.93 L434.15,128.75 L435.59,128.57 L437.03,128.41 L438.47,128.25 L439.91,128.09 L441.35,127.94 L442.79,127.80 L444.23,127.67 L445.66,127.54 L447.10,127.41 L448.54,127.29 L449.98,127.17 L451.42,127.06 L452.86,126.96 L454.30,126.86 L455.74,126.76 L457.18,126.67 L458.62,126.58 L460.06,126.49 L461.50,126.41 L462.94,126.33 L464.38,126.26 L465.82,126.19 L467.26,126.12 L468.70,126.06 L470.14,126.00 L471.58,125.95 L473.02,125.90 L474.45,125.85 L475.89,125.80 L477.33,125.76 L478.77,125.72 L480.21,125.69 L481.65,125.66 L483.09,125.63 L484.53,125.61 L485.97,125.59 L487.41,125.57 L488.85,125.55 L490.29,125.54 L491.73,125.54 L493.17,125.53 L494.61,125.54 L496.05,125.54 L497.49,125.55 L498.93,125.56 L500.37,125.57 L501.81,125.59 L503.24,125.62 L504.68,125.64 L506.12,125.67 L507.56,125.71 L509.00,125.75 L510.44,125.79 L511.88,125.84 L513.32,125.89 L514.76,125.94 L516.20,126.00" fill="none" stroke="#449c44" stroke-width="1.05" stroke-dasharray="2.7,1.9"/>
<path d="M344.90,189.81 L347.30,192.71 L344.90,195.61 L342.50,192.71 Z" fill="#fff" stroke="#5cb85c" stroke-width="0.8"/>
<path d="M348.33,171.66 L350.73,174.56 L348.33,177.46 L345.93,174.56 Z" fill="#fff" stroke="#5cb85c" stroke-width="0.8"/>
<path d="M362.03,128.98 L364.43,131.88 L362.03,134.78 L359.63,131.88 Z" fill="#fff" stroke="#5cb85c" stroke-width="0.8"/>
<path d="M516.20,49.82 L518.60,52.72 L516.20,55.62 L513.80,52.72 Z" fill="#fff" stroke="#5cb85c" stroke-width="0.8"/>
<circle cx="344.90" cy="197.76" r="2.05" fill="#0a7f0a"/>
<circle cx="348.33" cy="190.08" r="2.05" fill="#0a7f0a"/>
<circle cx="362.03" cy="165.24" r="2.05" fill="#0a7f0a"/>
<circle cx="516.20" cy="125.67" r="2.05" fill="#0a7f0a"/>
<circle cx="341.2" cy="28.8" r="2.15" fill="#0a7f0a"/>
<text x="352.8" y="31.9" class="lg">x-510-800</text>
<path d="M341.2,36.4 L343.5,39.1 L341.2,41.8 L338.9,39.1 Z" fill="#fff" stroke="#5cb85c" stroke-width="0.8"/>
<text x="352.8" y="42.2" class="lg">y-510-800</text>
<line x1="547.5" y1="0" x2="547.5" y2="537" stroke="#f2f2f2" stroke-width="1"/>
</svg>
<script>
(function(){
var X0=85.5,Y0=460.3,S=451.2;
var L=[0.1756,0.0053,0.1755,0.0053,0.1754,0.0053,0.1753,0.0053,0.1752,0.0053,0.1752,0.0053,0.1751,0.0052,0.1750,0.0052,0.1749,0.0052,0.1749,0.0052,0.1748,0.0052,0.1748,0.0052,0.1747,0.0052,0.1747,0.0052,0.1746,0.0052,0.1745,0.0052,0.1744,0.0051,0.1743,0.0051,0.1742,0.0050,0.1742,0.0050,0.1741,0.0050,0.1741,0.0050,0.1741,0.0050,0.1741,0.0050,0.1740,0.0050,0.1740,0.0050,0.1740,0.0050,0.1739,0.0049,0.1739,0.0049,0.1738,0.0049,0.1738,0.0049,0.1738,0.0049,0.1737,0.0049,0.1737,0.0049,0.1736,0.0049,0.1736,0.0049,0.1735,0.0049,0.1735,0.0049,0.1734,0.0048,0.1734,0.0048,0.1733,0.0048,0.1733,0.0048,0.1732,0.0048,0.1732,0.0048,0.1731,0.0048,0.1730,0.0048,0.1729,0.0048,0.1728,0.0048,0.1728,0.0048,0.1727,0.0048,0.1726,0.0048,0.1725,0.0048,0.1724,0.0048,0.1723,0.0048,0.1722,0.0048,0.1721,0.0048,0.1720,0.0049,0.1719,0.0049,0.1717,0.0049,0.1716,0.0050,0.1714,0.0051,0.1712,0.0052,0.1710,0.0053,0.1708,0.0055,0.1705,0.0056,0.1703,0.0058,0.1701,0.0060,0.1698,0.0062,0.1695,0.0064,0.1692,0.0066,0.1689,0.0069,0.1685,0.0072,0.1681,0.0075,0.1677,0.0078,0.1673,0.0082,0.1669,0.0086,0.1664,0.0090,0.1660,0.0094,0.1655,0.0099,0.1650,0.0104,0.1644,0.0109,0.1638,0.0114,0.1632,0.0119,0.1626,0.0125,0.1619,0.0131,0.1611,0.0138,0.1603,0.0145,0.1595,0.0152,0.1586,0.0160,0.1576,0.0168,0.1566,0.0177,0.1556,0.0186,0.1545,0.0196,0.1534,0.0206,0.1522,0.0216,0.1510,0.0227,0.1497,0.0240,0.1483,0.0252,0.1469,0.0266,0.1455,0.0281,0.1440,0.0297,0.1424,0.0314,0.1408,0.0332,0.1391,0.0352,0.1374,0.0374,0.1355,0.0399,0.1335,0.0427,0.1314,0.0459,0.1291,0.0494,0.1267,0.0534,0.1241,0.0578,0.1215,0.0626,0.1187,0.0678,0.1158,0.0736,0.1128,0.0799,0.1096,0.0868,0.1063,0.0945,0.1028,0.1029,0.0991,0.1120,0.0953,0.1219,0.0913,0.1327,0.0871,0.1443,0.0827,0.1569,0.0781,0.1704,0.0734,0.1850,0.0687,0.2007,0.0640,0.2175,0.0593,0.2353,0.0547,0.2541,0.0500,0.2740,0.0454,0.2950,0.0408,0.3170,0.0362,0.3399,0.0318,0.3636,0.0275,0.3879,0.0235,0.4127,0.0197,0.4378,0.0163,0.4630,0.0132,0.4882,0.0105,0.5134,0.0082,0.5384,0.0063,0.5631,0.0049,0.5871,0.0040,0.6104,0.0036,0.6330,0.0039,0.6548,0.0046,0.6759,0.0060,0.6961,0.0080,0.7153,0.0106,0.7334,0.0139,0.7502,0.0178,0.7656,0.0222,0.7796,0.0273,0.7921,0.0328,0.8029,0.0389,0.8120,0.0453,0.8194,0.0522,0.8252,0.0593,0.8294,0.0667,0.8323,0.0743,0.8338,0.0821,0.8341,0.0899,0.8333,0.0979,0.8316,0.1060,0.8292,0.1142,0.8262,0.1223,0.8228,0.1305,0.8189,0.1387,0.8148,0.1468,0.8104,0.1547,0.8059,0.1625,0.8012,0.1702,0.7965,0.1778,0.7917,0.1854,0.7867,0.1929,0.7816,0.2003,0.7764,0.2077,0.7711,0.2150,0.7656,0.2223,0.7600,0.2296,0.7543,0.2369,0.7485,0.2441,0.7426,0.2514,0.7366,0.2586,0.7305,0.2658,0.7243,0.2730,0.7181,0.2801,0.7117,0.2873,0.7053,0.2945,0.6988,0.3016,0.6923,0.3088,0.6857,0.3159,0.6791,0.3231,0.6724,0.3302,0.6656,0.3374,0.6588,0.3445,0.6520,0.3517,0.6452,0.3588,0.6383,0.3660,0.6314,0.3731,0.6245,0.3802,0.6175,0.3874,0.6105,0.3945,0.6036,0.4016,0.5966,0.4087,0.5896,0.4158,0.5826,0.4229,0.5756,0.4300,0.5686,0.4370,0.5617,0.4441,0.5547,0.4511,0.5478,0.4580,0.5408,0.4650,0.5339,0.4719,0.5271,0.4788,0.5202,0.4856,0.5134,0.4924,0.5066,0.4992,0.4999,0.5058,0.4932,0.5125,0.4866,0.5191,0.4800,0.5256,0.4735,0.5321,0.4671,0.5385,0.4607,0.5448,0.4544,0.5510,0.4482,0.5572,0.4421,0.5633,0.4361,0.5693,0.4301,0.5752,0.4242,0.5810,0.4184,0.5867,0.4128,0.5922,0.4072,0.5977,0.4018,0.6029,0.3965,0.6080,0.3914,0.6130,0.3865,0.6178,0.3817,0.6225,0.3770,0.6270,0.3725,0.6315,0.3680,0.6359,0.3637,0.6402,0.3594,0.6443,0.3553,0.6482,0.3514,0.6520,0.3476,0.6557,0.3440,0.6592,0.3406,0.6625,0.3372,0.6658,0.3340,0.6689,0.3309,0.6719,0.3279,0.6747,0.3251,0.6775,0.3224,0.6801,0.3197,0.6826,0.3172,0.6850,0.3149,0.6873,0.3126,0.6894,0.3104,0.6915,0.3083,0.6935,0.3064,0.6954,0.3045,0.6972,0.3027,0.6989,0.3010,0.7006,0.2993,0.7022,0.2977,0.7037,0.2962,0.7052,0.2948,0.7066,0.2934,0.7079,0.2920,0.7092,0.2907,0.7105,0.2895,0.7117,0.2882,0.7129,0.2871,0.7140,0.2859,0.7151,0.2848,0.7162,0.2838,0.7172,0.2828,0.7181,0.2819,0.7190,0.2809,0.7199,0.2801,0.7208,0.2792,0.7216,0.2784,0.7223,0.2777,0.7230,0.2769,0.7237,0.2763,0.7243,0.2757,0.7249,0.2751,0.7255,0.2745,0.7260,0.2740,0.7265,0.2735,0.7270,0.2730,0.7274,0.2726,0.7279,0.2721,0.7283,0.2717,0.7287,0.2713,0.7290,0.2710,0.7294,0.2706,0.7297,0.2703,0.7300,0.2700,0.7302,0.2698,0.7305,0.2695,0.7307,0.2693,0.7309,0.2691,0.7311,0.2689,0.7313,0.2687,0.7315,0.2685,0.7316,0.2684,0.7318,0.2682,0.7320,0.2680,0.7322,0.2678,0.7323,0.2677,0.7324,0.2676,0.7326,0.2674,0.7327,0.2673,0.7329,0.2671,0.7330,0.2670,0.7331,0.2669,0.7333,0.2667,0.7334,0.2666,0.7336,0.2664,0.7337,0.2663,0.7338,0.2662,0.7339,0.2661,0.7340,0.2660,0.7341,0.2659,0.7342,0.2658,0.7343,0.2657,0.7343,0.2657,0.7344,0.2656,0.7344,0.2656,0.7345,0.2655,0.7345,0.2655,0.7346,0.2654,0.7346,0.2654,0.7346,0.2654,0.7346,0.2654,0.7347,0.2653,0.7347,0.2653,0.7347,0.2653];
function px(x){return X0+x*S;} function py(y){return Y0-y*S;}
var cv=document.getElementById('cv'),ctx=cv.getContext('2d');
var W=550,H=537;
var off=document.createElement('canvas');off.width=W;off.height=H;
var oc=off.getContext('2d');var im=oc.createImageData(W,H);var d=im.data;
function enc(v){return v<=0.0031308?v*12.92:1.055*Math.pow(v,1/2.4)-0.055;}
for(var j=0;j<H;j++){var y=(Y0-(j+0.5))/S;if(y<=0.001||y>0.9)continue;
 for(var i=0;i<W;i++){var x=(i+0.5-X0)/S;if(x<-0.01||x>0.8)continue;
  var X=x/y,Z=(1-x-y)/y;
  var r=enc(3.2406*X-1.5372-0.4986*Z),g=enc(-0.9689*X+1.8758+0.0415*Z),b=enc(0.0557*X-0.2040+1.0570*Z);
  var m=Math.max(r,g,b);r/=m;g/=m;b/=m;
  r=r<0?0:r>1?1:r;g=g<0?0:g>1?1:g;b=b<0?0:b>1?1:b;
  var k=(j*W+i)*4;d[k]=Math.round(r*255);d[k+1]=Math.round(g*255);d[k+2]=Math.round(b*255);d[k+3]=255;}}
oc.putImageData(im,0,0);
ctx.beginPath();for(var n=0;n<L.length;n+=2){var a=px(L[n]),c=py(L[n+1]);if(n==0)ctx.moveTo(a,c);else ctx.lineTo(a,c);}
ctx.closePath();ctx.save();ctx.clip();ctx.drawImage(off,0,0);ctx.restore();
})();
</script>
</body></html>
